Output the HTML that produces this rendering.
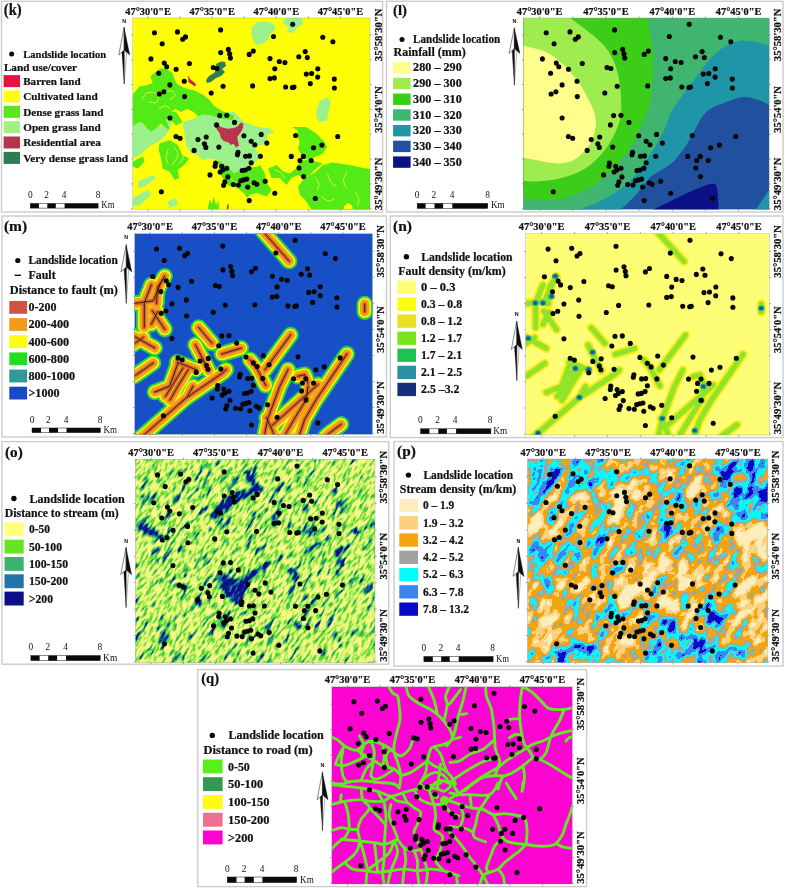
<!DOCTYPE html>
<html lang="en"><head><meta charset="utf-8"><title>Landslide conditioning factor maps (k-q)</title>
<style>html,body{margin:0;padding:0;background:#fff}svg{display:block}text{font-family:"Liberation Serif","DejaVu Serif",serif;fill:#111}.b{font-weight:bold;stroke:#111;stroke-width:.22px}</style>
</head><body>
<svg width="785" height="888" viewBox="0 0 785 888">
<rect width="785" height="888" fill="#fff"/>
<defs>
<clipPath id="ck"><rect x="132.6" y="18" width="237.4" height="191.6"/></clipPath>
<clipPath id="cl"><rect x="523.5" y="18" width="245.7" height="191.6"/></clipPath>
<clipPath id="cm"><rect x="134.5" y="233.6" width="238.1" height="200.9"/></clipPath>
<clipPath id="cn"><rect x="525.6" y="233.7" width="243.8" height="201.3"/></clipPath>
<clipPath id="co"><rect x="135.4" y="459.3" width="239.6" height="203.4"/></clipPath>
<clipPath id="cp"><rect x="527.5" y="459" width="240.3" height="203.7"/></clipPath>
<clipPath id="cq"><rect x="331.7" y="686.7" width="240.7" height="197.3"/></clipPath>
<filter id="bl1" x="-50%" y="-50%" width="200%" height="200%"><feGaussianBlur stdDeviation="0.7"/></filter>
<filter id="fo" x="0" y="0" width="1" height="1" color-interpolation-filters="sRGB">
<feTurbulence type="fractalNoise" baseFrequency="0.13 0.42" numOctaves="2" seed="7"/>
<feColorMatrix type="matrix" values="1 0 0 0 0 0 1 0 0 0 0 0 1 0 0 0 0 0 0 1" result="n"/>
<feTurbulence type="fractalNoise" baseFrequency="0.05 0.2" numOctaves="2" seed="23"/>
<feColorMatrix type="matrix" values="1 0 0 0 0 0 1 0 0 0 0 0 1 0 0 0 0 0 0 1"/>
<feComponentTransfer result="n2"><feFuncR type="table" tableValues="0 0 0.15 0.8 1 1 1 1 1"/></feComponentTransfer>
<feComposite in="n" in2="n2" operator="arithmetic" k1="0" k2="0.6" k3="0.27" k4="0" result="t"/>
<feGaussianBlur in="SourceGraphic" stdDeviation="1.6" result="b"/>
<feComposite in="t" in2="b" operator="arithmetic" k1="0" k2="2" k3="1" k4="-1.06"/>
<feColorMatrix type="matrix" values="1 0 0 0 0 1 0 0 0 0 1 0 0 0 0 0 0 0 0 1"/>
<feComponentTransfer>
<feFuncR type="table" tableValues="0.05 0.05 0.08 0.14 0.30 0.45 0.78 0.97 0.97 0.97 0.97"/>
<feFuncG type="table" tableValues="0.06 0.10 0.36 0.62 0.82 0.88 0.94 0.97 0.97 0.97 0.97"/>
<feFuncB type="table" tableValues="0.53 0.55 0.62 0.50 0.28 0.24 0.40 0.52 0.54 0.54 0.54"/>
</feComponentTransfer>
</filter>
<filter id="fp" x="0" y="0" width="1" height="1" color-interpolation-filters="sRGB">
<feTurbulence type="fractalNoise" baseFrequency="0.062 0.095" numOctaves="3" seed="11"/>
<feColorMatrix type="matrix" values="1 0 0 0 0 0 1 0 0 0 0 0 1 0 0 0 0 0 0 1" result="n"/>
<feGaussianBlur in="SourceGraphic" stdDeviation="4.5" result="b"/>
<feComposite in="n" in2="b" operator="arithmetic" k1="0" k2="1.25" k3="1" k4="-0.635"/>
<feColorMatrix type="matrix" values="1 0 0 0 0 1 0 0 0 0 1 0 0 0 0 0 0 0 0 1"/>
<feComponentTransfer>
<feFuncR type="discrete" tableValues="0.99 0.99 0.99 0.99 0.99 0.99 0.99 0.96 0.96 0.96 0.64 0.64 0.02 0.02 0.02 0.23 0.23 0.23 0.03 0.03"/>
<feFuncG type="discrete" tableValues="0.93 0.93 0.93 0.93 0.82 0.82 0.82 0.65 0.65 0.65 0.64 0.64 0.98 0.98 0.98 0.53 0.53 0.53 0.03 0.03"/>
<feFuncB type="discrete" tableValues="0.73 0.73 0.73 0.73 0.50 0.50 0.50 0.05 0.05 0.05 0.64 0.64 0.98 0.98 0.98 0.94 0.94 0.94 0.78 0.78"/>
</feComponentTransfer>
</filter>
<pattern id="resd" width="2.4" height="2.4" patternUnits="userSpaceOnUse"><rect width="2.4" height="2.4" fill="#c63a55"/><circle cx=".6" cy=".6" r=".45" fill="#7a1f30"/><circle cx="1.8" cy="1.8" r=".45" fill="#7a1f30"/></pattern>
<pattern id="brd" width="2.4" height="2.4" patternUnits="userSpaceOnUse"><rect width="2.4" height="2.4" fill="#cd4a38"/><circle cx=".6" cy=".6" r=".4" fill="#e8806a"/><circle cx="1.8" cy="1.8" r=".4" fill="#e8806a"/></pattern>
<filter id="bl2" filterUnits="userSpaceOnUse" x="520" y="228" width="256" height="212"><feGaussianBlur stdDeviation="0.6"/></filter>

</defs>
<rect x="1.5" y="1.3" width="381.1" height="210.7" fill="none" stroke="#cbcbcb" stroke-width="1.4"/>
<rect x="386.5" y="1.3" width="396.5" height="210.7" fill="none" stroke="#cbcbcb" stroke-width="1.4"/>
<rect x="2" y="216" width="384.5" height="221" fill="none" stroke="#cbcbcb" stroke-width="1.4"/>
<rect x="390.3" y="216" width="392.7" height="221.6" fill="none" stroke="#cbcbcb" stroke-width="1.4"/>
<rect x="2" y="441.6" width="386.7" height="222.6" fill="none" stroke="#cbcbcb" stroke-width="1.4"/>
<rect x="394" y="441.5" width="389" height="224.5" fill="none" stroke="#cbcbcb" stroke-width="1.4"/>
<rect x="197.8" y="669.6" width="388.8" height="217" fill="none" stroke="#cbcbcb" stroke-width="1.4"/>
<g clip-path="url(#ck)">
<rect x="132.6" y="18" width="237.4" height="191.6" fill="#fefe06"/>
<polygon points="132.7,126.9 136.4,123.5 141.1,121.9 146.1,126.9 151.1,130 160,126 168,120 172,121 170,128 165,136 158,142 149.5,146 144.5,151 138,156 132.7,158.4" fill="#9cf08c"/>
<polygon points="182.6,121.9 194.2,118.5 202.6,113.8 214.1,111.9 234.1,111.9 243.8,121.9 258.1,126.9 268.1,127.9 274.7,131.9 266.6,135 268.1,143.5 260,145 255,148.5 261.6,156.6 256.6,161.6 250,166.6 243.8,168.4 234.1,173.4 227.3,166.6 217.6,160 210.7,158.4 202.6,160 197.6,155 191,153.4 186.1,145 184.2,131.9" fill="#9cf08c"/>
<polygon points="138,181.5 153,175 156.1,178.1 144.5,186.5 138,188.1" fill="#9cf08c"/>
<polygon points="132.7,198.1 148,190 151.1,194.6 141.1,204.6 132.7,206.5" fill="#9cf08c"/>
<polygon points="167.6,201.5 176.1,198.1 177.6,204.6 169.5,208.1" fill="#9cf08c"/>
<polygon points="319.9,101 327.8,97 330.9,102.6 328.4,111.9 327.1,120.4 319.6,121.9 316.2,116.9 316.8,108.8" fill="#9cf08c"/>
<polygon points="252,27 257,22 266,21.5 274,24 275,30 270,34 268,40 262,44 256,45 253,40 251.5,33" fill="#9cf08c"/>
<polygon points="283,20 288,18 302,18 303,24 297,28 293,33 287,32 289,27 284,25" fill="#9cf08c"/>
<polygon points="132.7,94.5 139.5,86.3 146.1,85.4 152.7,82.9 150.5,76.4 156.1,71.4 161.1,67.9 167.6,69.8 172.6,72.9 174.5,79.5 177.6,84.5 184.2,87.9 194.2,90.4 202.6,94.5 209.1,99.5 214.1,106 222.3,111 234.1,115.7 232.6,120.1 221.6,118.8 209.8,115.1 202.9,114.4 198.2,116.6 193.5,111.9 187.3,108.8 181.1,111.9 174.8,108.8 170.1,113.5 166.1,120.4 169.5,128.5 167.6,129.4 161.1,123.5 156.1,128.5 151.1,131.9 146.1,126.9 141.1,121.9 136.4,123.5 132.7,126.9" fill="#54ea16"/>
<polygon points="159.5,143.5 169.5,140 177.6,145 182.6,155 189.2,158.4 184.2,165 177.6,170 179.2,178.1 174.5,180 169.5,171.6 162.6,168.4 161.1,158.4 158.6,150" fill="#54ea16"/>
<polygon points="132.7,161.6 143,156.6 144.5,161.6 138,168.4 132.7,166.6" fill="#54ea16"/>
<polygon points="166.1,111.9 176.1,111.9 182.6,121.9 176.1,125.4 171.1,120.4" fill="#54ea16"/>
<polygon points="217.6,160 227.3,166.6 234.1,173.4 243.8,168.4 258.1,166.6 260,165 265,173.4 266.6,183.1 271.6,190 266.6,196.5 256.6,193.1 250,194.6 247.2,198.1 243.8,193.1 237.2,188.1 227.3,185 220.7,175" fill="#54ea16"/>
<polygon points="268.1,168.4 276.6,165 283.1,171.6 289.7,173.4 296.2,168.4 299.7,161.6 306.2,160 316.2,161.6 322.8,163.4 316.2,168.4 309.6,175 303.1,178.1 298.1,175 291.5,178.1 286.6,185 279.7,178.1 271.6,178.1" fill="#54ea16"/>
<polygon points="292.2,126.9 306.2,126.9 316.2,133.5 324.6,141.9 327.1,146.9 322.8,153.4 316.2,156.6 308.1,160 301.2,155 298.1,148.5 299.7,141.9 297.2,135 298.1,130.4" fill="#54ea16"/>
<polygon points="298.1,186.5 304.7,178.1 316.2,171.6 322.8,165 332.7,162.5 349.3,165 365.8,168.4 371.4,169.1 371.4,211.8 349.3,211.8 313.1,211.8 304.7,199.6 299.7,194.6" fill="#54ea16"/>
<polygon points="207.6,209.6 209.8,199.3 211.6,204 213.8,196.8 216,204.9 218.5,200.9 219.1,209.6" fill="#54ea16"/>
<polygon points="343.4,211.8 344,206.2 348,203.1 352.1,205.6 353.3,211.8" fill="#fefe06"/>
<path d="M142 99.5 C142.8 98.4 144.6 94.4 146.7 93.2 C148.8 92.1 152.6 92 154.5 92.6 C156.5 93.2 158.3 95.3 158.6 97 C158.8 98.6 157.5 101.7 156.1 102.6 C154.6 103.4 150.9 102.1 149.8 102M165.5 92.6 C166.5 92.3 170.1 90.2 171.7 90.7 C173.3 91.2 175.1 94.3 174.8 95.7 C174.6 97.2 170.9 98.8 170.1 99.5M159.2 108.8 C160.3 108.3 163.6 105.7 165.5 105.7 C167.3 105.7 169.4 108.3 170.1 108.8M174.8 147.8 C175.3 148.9 177.9 151.8 177.9 154.1 C177.9 156.3 175.9 159.4 174.8 161.3 C173.8 163.1 172.2 164.4 171.7 165M168 149.4 C167.6 150.7 166.1 154.9 166.1 157.2 C166.1 159.5 167.6 162.4 168 163.4M181.1 152.5 C181.5 153.3 183.8 155.4 183.6 157.2 C183.3 159 180.2 162.4 179.5 163.4M315.3 177.5 C315.9 178.6 318.7 182.3 319 184.3 C319.3 186.4 317.5 189 317.1 190M327.8 174.4 C328.3 175.7 329.4 180.1 330.9 182.2 C332.3 184.2 335.6 186.1 336.5 186.8M346.5 172.8 C346 174.1 343.4 178.2 343.4 180.6 C343.4 183 346 186.3 346.5 187.5M321.5 196.2 C322.5 197 325.7 200.4 327.8 200.9 C329.8 201.4 333 199.6 334 199.3M355.8 193.1 C356.4 194.1 358.7 197.2 359 199.3 C359.2 201.4 357.7 204.5 357.4 205.6M274.7 169.7 C275.7 170.2 279.4 171.4 280.9 172.8 C282.5 174.2 283.5 177.2 284.1 178.1M231 179 C232 179.7 235.1 182.6 237.2 183.1 C239.4 183.6 243 182.3 244.1 182.2" fill="none" stroke="#e4f83c" stroke-width="0.9" stroke-linecap="round"/>
<polygon points="213.5,124.4 216.6,123.2 220.7,126.9 227.3,128.8 234.1,127.9 237.9,126 240.7,122.5 243.5,123.5 242.9,128.2 241,131.9 237.2,136.9 237.9,140.7 239.1,145.6 236,147.5 233.5,143.8 231,145 228.5,142.5 224.1,141.3 221,138.2 219.8,133.8 216.6,128.8" fill="url(#resd)"/>
<polygon points="206,80 209,76 214,73 217,69 216,64 221,61.5 225,62 226,66 222,69 225,72 221,76 216,78 211,82 207,83" fill="#2f7d58"/>
<polygon points="188,75 190,79 196,84 195,86.5 188.5,82" fill="#d21e46"/>
<polygon points="226.6,209.6 227.6,204 228.8,204.5 228.2,209.6" fill="#e8103c"/>
</g>
<g clip-path="url(#cl)">
<rect x="523.5" y="18" width="245.7" height="191.6" fill="#21509f"/>
<path d="M618 212 C619.3 210.8 623 207.6 626 204.7 C629 201.8 632 199.4 636 194.8 C640 190.2 646.3 181.2 650 177.4 C653.7 173.6 654.1 174.6 658 172 C661.9 169.4 668.5 166.2 673.2 161.7 C677.9 157.2 682.8 150.2 686.4 145 C690 139.8 691.4 135.7 694.7 130.2 C698 124.7 701.3 116.6 706.3 112 C711.3 107.4 718.1 105.3 724.5 102.8 C730.9 100.3 738.3 97.3 744.4 97 C750.5 96.7 756.4 99.3 761 101 C765.6 102.7 770.2 106 772 107 L772 15 L520 15 L520 212Z" fill="#1f95a8"/>
<polygon points="769.8,189 755.5,210 770,210" fill="#1f95a8"/>
<path d="M572 212 C576.6 210.2 591.6 205.1 599.5 201.4 C607.4 197.7 613.9 193.7 619.4 189.8 C624.9 185.9 628.7 182.3 632.6 178.2 C636.5 174.1 639.7 168.9 642.6 165 C645.5 161.1 647.8 158 650 154.7 C652.2 151.4 653.8 148.8 656 145 C658.2 141.2 660.6 137.4 663.2 131.9 C665.8 126.4 668.6 117.7 671.5 112 C674.4 106.3 677 102.9 680.6 97.8 C684.2 92.7 688.4 87.3 693 81.2 C697.6 75.1 702.8 67.2 708 61.4 C713.2 55.6 719 50 724.5 46.5 C730 43 735.5 41.4 741 40.7 C746.5 40 752.4 41.3 757.6 42.3 C762.8 43.3 769.6 45.8 772 46.5 L772 15 L520 15 L520 212Z" fill="#3fb56f"/>
<path d="M520 199 C525.5 199.1 543.3 200.8 553 199.8 C562.7 198.8 570.2 196 578 193 C585.8 190 592.6 186.8 599.5 181.6 C606.4 176.4 613.6 168.3 619.4 161.7 C625.2 155.1 630.4 148.4 634.3 141.8 C638.2 135.2 640.2 127.6 642.6 122 C645 116.4 647 113.4 648.5 108 C650 102.6 650.8 96.7 651.6 89.5 C652.4 82.3 653.1 71.6 653.3 64.7 C653.4 57.8 653.5 56.3 652.5 48 C651.5 39.7 647.9 20.5 647 15 L520 15Z" fill="#3ccd18"/>
<path d="M520 180.5 C522.8 180.7 529.6 181.9 536.5 181.5 C543.4 181.1 553.1 180.2 561.4 178 C569.6 175.8 578.6 172.9 586 168 C593.4 163.1 600.4 156.1 606 148.4 C611.6 140.7 616.9 130.4 619.4 122 C621.9 113.6 621.3 106 621 97.8 C620.7 89.6 619.6 80.5 617.7 73 C615.8 65.5 613.3 59.1 609.4 53 C605.5 46.9 601.7 42.8 594.5 36.5 C587.3 30.2 570.8 18.6 566 15 L520 15Z" fill="#9fec4f"/>
<path d="M520 156.5 C524.1 157.4 537.9 160.6 544.8 161.7 C551.7 162.8 556.1 163.9 561.4 163.3 C566.6 162.8 571.6 161.4 576.3 158.4 C581 155.4 586.4 150.1 589.6 145.1 C592.8 140.1 594.4 133.3 595.4 128.6 C596.4 123.9 596.1 121 595.4 117 C594.7 113 593.9 110.4 591 104.4 C588.1 98.4 582.9 88.1 578 81.2 C573.1 74.3 566.9 68 561.4 63 C555.9 58 551.7 54.4 544.8 51.4 C537.9 48.4 524.1 46.1 520 45Z" fill="#fffd8c"/>
<path d="M648 212 C651.6 210.2 662 205.1 669.8 201.4 C677.6 197.7 687.8 192.7 694.7 189.8 C701.6 186.9 707.5 184.3 711.2 184 C714.9 183.7 715.8 183.5 717 188.2 C718.2 192.9 718.4 208 718.7 212 Z" fill="#0c1086"/>
</g>
<g clip-path="url(#cm)">
<rect x="134.5" y="233.6" width="238.1" height="200.9" fill="#1750c6"/>
<g fill="none" stroke-linecap="round" stroke-linejoin="round">
<path d="M262.6 231 L289.2 261.2M364.7 304 L364.7 311.8M164.7 276.2 L160.6 283.3 L153.4 300.7 L136.1 303.2 L130 303.5M151.4 284.9 L144.3 302.7 L144.3 327.2M163.6 278.3 L157.5 287.4 L156.5 303.7M152.4 310.9 L164.7 329.2M157.5 311.9 L151.4 324.1M131 346 L136.1 342.5 L143.3 337.4M131 335 L137 338 L154.8 348M131 378 L136.6 374.6 L153.2 363M198.7 327.5 L212 343.2M195.4 344.8 L208.7 370.5M221.9 354 L241 348.2M177.2 362.2 L196.2 369.7M178 363 L169.7 386.2 L154.8 392M183 368 L165.6 396.2M188 370 L178 386 L170 400M140 438 L146.6 432.6 L186.3 397.8 L222.7 373 L226 369.7M187.1 397 L193 386.2M264.9 369.7 L290.6 334.9M250 359.7 L256.6 368 L265.7 385.4M288 369.7 L279.8 386.2 L268.2 417.7 L264.9 432.6 L264 438M298 376.3 L304.7 374.6 L308 383M346.9 354 L316.2 399.5 L304.7 419.4 L299.7 434.3 L299 438M271.5 426 L317.9 384.6M308 386.2 L306.3 399.5 L298 412.7 L286.4 432.6 L283 438M325 437 L327.8 434.3 L341.1 424.3M266.6 417.7 L273.2 432.6 L275 438" stroke="#25a5a0" stroke-width="16.6"/>
<path d="M262.6 231 L289.2 261.2M364.7 304 L364.7 311.8M164.7 276.2 L160.6 283.3 L153.4 300.7 L136.1 303.2 L130 303.5M151.4 284.9 L144.3 302.7 L144.3 327.2M163.6 278.3 L157.5 287.4 L156.5 303.7M152.4 310.9 L164.7 329.2M157.5 311.9 L151.4 324.1M131 346 L136.1 342.5 L143.3 337.4M131 335 L137 338 L154.8 348M131 378 L136.6 374.6 L153.2 363M198.7 327.5 L212 343.2M195.4 344.8 L208.7 370.5M221.9 354 L241 348.2M177.2 362.2 L196.2 369.7M178 363 L169.7 386.2 L154.8 392M183 368 L165.6 396.2M188 370 L178 386 L170 400M140 438 L146.6 432.6 L186.3 397.8 L222.7 373 L226 369.7M187.1 397 L193 386.2M264.9 369.7 L290.6 334.9M250 359.7 L256.6 368 L265.7 385.4M288 369.7 L279.8 386.2 L268.2 417.7 L264.9 432.6 L264 438M298 376.3 L304.7 374.6 L308 383M346.9 354 L316.2 399.5 L304.7 419.4 L299.7 434.3 L299 438M271.5 426 L317.9 384.6M308 386.2 L306.3 399.5 L298 412.7 L286.4 432.6 L283 438M325 437 L327.8 434.3 L341.1 424.3M266.6 417.7 L273.2 432.6 L275 438" stroke="#27dc25" stroke-width="15.4"/>
<path d="M262.6 231 L289.2 261.2M364.7 304 L364.7 311.8M164.7 276.2 L160.6 283.3 L153.4 300.7 L136.1 303.2 L130 303.5M151.4 284.9 L144.3 302.7 L144.3 327.2M163.6 278.3 L157.5 287.4 L156.5 303.7M152.4 310.9 L164.7 329.2M157.5 311.9 L151.4 324.1M131 346 L136.1 342.5 L143.3 337.4M131 335 L137 338 L154.8 348M131 378 L136.6 374.6 L153.2 363M198.7 327.5 L212 343.2M195.4 344.8 L208.7 370.5M221.9 354 L241 348.2M177.2 362.2 L196.2 369.7M178 363 L169.7 386.2 L154.8 392M183 368 L165.6 396.2M188 370 L178 386 L170 400M140 438 L146.6 432.6 L186.3 397.8 L222.7 373 L226 369.7M187.1 397 L193 386.2M264.9 369.7 L290.6 334.9M250 359.7 L256.6 368 L265.7 385.4M288 369.7 L279.8 386.2 L268.2 417.7 L264.9 432.6 L264 438M298 376.3 L304.7 374.6 L308 383M346.9 354 L316.2 399.5 L304.7 419.4 L299.7 434.3 L299 438M271.5 426 L317.9 384.6M308 386.2 L306.3 399.5 L298 412.7 L286.4 432.6 L283 438M325 437 L327.8 434.3 L341.1 424.3M266.6 417.7 L273.2 432.6 L275 438" stroke="#fbf816" stroke-width="12.4"/>
<path d="M262.6 231 L289.2 261.2M364.7 304 L364.7 311.8M164.7 276.2 L160.6 283.3 L153.4 300.7 L136.1 303.2 L130 303.5M151.4 284.9 L144.3 302.7 L144.3 327.2M163.6 278.3 L157.5 287.4 L156.5 303.7M152.4 310.9 L164.7 329.2M157.5 311.9 L151.4 324.1M131 346 L136.1 342.5 L143.3 337.4M131 335 L137 338 L154.8 348M131 378 L136.6 374.6 L153.2 363M198.7 327.5 L212 343.2M195.4 344.8 L208.7 370.5M221.9 354 L241 348.2M177.2 362.2 L196.2 369.7M178 363 L169.7 386.2 L154.8 392M183 368 L165.6 396.2M188 370 L178 386 L170 400M140 438 L146.6 432.6 L186.3 397.8 L222.7 373 L226 369.7M187.1 397 L193 386.2M264.9 369.7 L290.6 334.9M250 359.7 L256.6 368 L265.7 385.4M288 369.7 L279.8 386.2 L268.2 417.7 L264.9 432.6 L264 438M298 376.3 L304.7 374.6 L308 383M346.9 354 L316.2 399.5 L304.7 419.4 L299.7 434.3 L299 438M271.5 426 L317.9 384.6M308 386.2 L306.3 399.5 L298 412.7 L286.4 432.6 L283 438M325 437 L327.8 434.3 L341.1 424.3M266.6 417.7 L273.2 432.6 L275 438" stroke="#f5a31a" stroke-width="9.4"/>
<path d="M262.6 231 L289.2 261.2M364.7 304 L364.7 311.8M164.7 276.2 L160.6 283.3 L153.4 300.7 L136.1 303.2 L130 303.5M151.4 284.9 L144.3 302.7 L144.3 327.2M163.6 278.3 L157.5 287.4 L156.5 303.7M152.4 310.9 L164.7 329.2M157.5 311.9 L151.4 324.1M131 346 L136.1 342.5 L143.3 337.4M131 335 L137 338 L154.8 348M131 378 L136.6 374.6 L153.2 363M198.7 327.5 L212 343.2M195.4 344.8 L208.7 370.5M221.9 354 L241 348.2M177.2 362.2 L196.2 369.7M178 363 L169.7 386.2 L154.8 392M183 368 L165.6 396.2M188 370 L178 386 L170 400M140 438 L146.6 432.6 L186.3 397.8 L222.7 373 L226 369.7M187.1 397 L193 386.2M264.9 369.7 L290.6 334.9M250 359.7 L256.6 368 L265.7 385.4M288 369.7 L279.8 386.2 L268.2 417.7 L264.9 432.6 L264 438M298 376.3 L304.7 374.6 L308 383M346.9 354 L316.2 399.5 L304.7 419.4 L299.7 434.3 L299 438M271.5 426 L317.9 384.6M308 386.2 L306.3 399.5 L298 412.7 L286.4 432.6 L283 438M325 437 L327.8 434.3 L341.1 424.3M266.6 417.7 L273.2 432.6 L275 438" stroke="#d2682a" stroke-width="4.0"/>
<path d="M262.6 231 L289.2 261.2M364.7 304 L364.7 311.8M164.7 276.2 L160.6 283.3 L153.4 300.7 L136.1 303.2 L130 303.5M151.4 284.9 L144.3 302.7 L144.3 327.2M163.6 278.3 L157.5 287.4 L156.5 303.7M152.4 310.9 L164.7 329.2M157.5 311.9 L151.4 324.1M131 346 L136.1 342.5 L143.3 337.4M131 335 L137 338 L154.8 348M131 378 L136.6 374.6 L153.2 363M198.7 327.5 L212 343.2M195.4 344.8 L208.7 370.5M221.9 354 L241 348.2M177.2 362.2 L196.2 369.7M178 363 L169.7 386.2 L154.8 392M183 368 L165.6 396.2M188 370 L178 386 L170 400M140 438 L146.6 432.6 L186.3 397.8 L222.7 373 L226 369.7M187.1 397 L193 386.2M264.9 369.7 L290.6 334.9M250 359.7 L256.6 368 L265.7 385.4M288 369.7 L279.8 386.2 L268.2 417.7 L264.9 432.6 L264 438M298 376.3 L304.7 374.6 L308 383M346.9 354 L316.2 399.5 L304.7 419.4 L299.7 434.3 L299 438M271.5 426 L317.9 384.6M308 386.2 L306.3 399.5 L298 412.7 L286.4 432.6 L283 438M325 437 L327.8 434.3 L341.1 424.3M266.6 417.7 L273.2 432.6 L275 438" stroke="#1a0a08" stroke-width="0.8"/>
</g></g>
<g clip-path="url(#cn)">
<rect x="525.6" y="233.7" width="243.8" height="201.3" fill="#fefe76"/>
<g fill="none" stroke-linecap="round" stroke-linejoin="round" filter="url(#bl2)">
<path d="M656.8 231.1 L684 261.4M761.3 304.2 L761.3 312.1M556.5 276.4 L552.3 283.5 L545 300.9 L527.2 303.4 L521 303.7M542.9 285.1 L535.6 302.9 L535.6 327.5M555.4 278.5 L549.2 287.6 L548.1 303.9M543.9 311.2 L556.5 329.5M549.2 312.2 L542.9 324.4M522 346.3 L527.2 342.8 L534.6 337.7M522 335.3 L528.2 338.3 L546.4 348.3M522 378.4 L527.8 375 L544.7 363.4M591.3 327.8 L605 343.5M588 345.1 L601.6 370.9M615.1 354.3 L634.6 348.5M569.3 362.6 L588.8 370.1M570.1 363.4 L561.6 386.6 L546.4 392.4M575.3 368.4 L557.4 396.6M580.4 370.4 L570.1 386.4 L561.9 400.4M531.2 438.5 L538 433.1 L578.6 398.2 L615.9 373.4 L619.3 370.1M579.5 397.4 L585.5 386.6M659.1 370.1 L685.4 335.2M643.9 360.1 L650.6 368.4 L659.9 385.8M682.8 370.1 L674.4 386.6 L662.5 418.2 L659.1 433.1 L658.2 438.5M693 376.7 L699.9 375 L703.3 383.4M743.1 354.3 L711.6 399.9 L699.9 419.9 L694.8 434.8 L694 438.5M665.9 426.5 L713.4 385M703.3 386.6 L701.5 399.9 L693 413.2 L681.1 433.1 L677.7 438.5M720.7 437.5 L723.5 434.8 L737.1 424.8M660.9 418.2 L667.6 433.1 L669.5 438.5" stroke="#f8ea1e" stroke-width="9.2"/>
<path d="M656.8 231.1 L684 261.4M761.3 304.2 L761.3 312.1M556.5 276.4 L552.3 283.5 L545 300.9 L527.2 303.4 L521 303.7M542.9 285.1 L535.6 302.9 L535.6 327.5M555.4 278.5 L549.2 287.6 L548.1 303.9M543.9 311.2 L556.5 329.5M549.2 312.2 L542.9 324.4M522 346.3 L527.2 342.8 L534.6 337.7M522 335.3 L528.2 338.3 L546.4 348.3M522 378.4 L527.8 375 L544.7 363.4M591.3 327.8 L605 343.5M588 345.1 L601.6 370.9M615.1 354.3 L634.6 348.5M569.3 362.6 L588.8 370.1M570.1 363.4 L561.6 386.6 L546.4 392.4M575.3 368.4 L557.4 396.6M580.4 370.4 L570.1 386.4 L561.9 400.4M531.2 438.5 L538 433.1 L578.6 398.2 L615.9 373.4 L619.3 370.1M579.5 397.4 L585.5 386.6M659.1 370.1 L685.4 335.2M643.9 360.1 L650.6 368.4 L659.9 385.8M682.8 370.1 L674.4 386.6 L662.5 418.2 L659.1 433.1 L658.2 438.5M693 376.7 L699.9 375 L703.3 383.4M743.1 354.3 L711.6 399.9 L699.9 419.9 L694.8 434.8 L694 438.5M665.9 426.5 L713.4 385M703.3 386.6 L701.5 399.9 L693 413.2 L681.1 433.1 L677.7 438.5M720.7 437.5 L723.5 434.8 L737.1 424.8M660.9 418.2 L667.6 433.1 L669.5 438.5" stroke="#8fe42c" stroke-width="5.4"/>
</g>
<g filter="url(#bl1)">
<ellipse cx="535.4" cy="303.1" rx="3.3" ry="3" fill="#2ab07a"/><ellipse cx="535.4" cy="303.1" rx="2" ry="1.8" fill="#1d55a8"/>
<ellipse cx="543" cy="303.1" rx="3.3" ry="3" fill="#2ab07a"/><ellipse cx="543" cy="303.1" rx="2" ry="1.8" fill="#1d55a8"/>
<ellipse cx="551.5" cy="296.4" rx="3.3" ry="3" fill="#2ab07a"/><ellipse cx="551.5" cy="296.4" rx="2" ry="1.8" fill="#1d55a8"/>
<ellipse cx="528.2" cy="338.3" rx="3.3" ry="3" fill="#2ab07a"/><ellipse cx="528.2" cy="338.3" rx="2" ry="1.8" fill="#1d55a8"/>
<ellipse cx="575.3" cy="368.4" rx="3.3" ry="3" fill="#2ab07a"/><ellipse cx="575.3" cy="368.4" rx="2" ry="1.8" fill="#1d55a8"/>
<ellipse cx="588.6" cy="369.4" rx="3.3" ry="3" fill="#2ab07a"/><ellipse cx="588.6" cy="369.4" rx="2" ry="1.8" fill="#1d55a8"/>
<ellipse cx="579.4" cy="397.4" rx="3.3" ry="3" fill="#2ab07a"/><ellipse cx="579.4" cy="397.4" rx="2" ry="1.8" fill="#1d55a8"/>
<ellipse cx="538" cy="433.1" rx="3.3" ry="3" fill="#2ab07a"/><ellipse cx="538" cy="433.1" rx="2" ry="1.8" fill="#1d55a8"/>
<ellipse cx="703.3" cy="386.4" rx="3.3" ry="3" fill="#2ab07a"/><ellipse cx="703.3" cy="386.4" rx="2" ry="1.8" fill="#1d55a8"/>
<ellipse cx="694.8" cy="430.5" rx="3.3" ry="3" fill="#2ab07a"/><ellipse cx="694.8" cy="430.5" rx="2" ry="1.8" fill="#1d55a8"/>
<ellipse cx="662.3" cy="418.5" rx="3.3" ry="3" fill="#2ab07a"/><ellipse cx="662.3" cy="418.5" rx="2" ry="1.8" fill="#1d55a8"/>
<ellipse cx="701.2" cy="400.4" rx="3.3" ry="3" fill="#2ab07a"/><ellipse cx="701.2" cy="400.4" rx="2" ry="1.8" fill="#1d55a8"/>
<ellipse cx="761.3" cy="308.2" rx="3.3" ry="3" fill="#2ab07a"/><ellipse cx="761.3" cy="308.2" rx="2" ry="1.8" fill="#1d55a8"/>
<ellipse cx="555.3" cy="276.2" rx="3.3" ry="3" fill="#2ab07a"/><ellipse cx="555.3" cy="276.2" rx="2" ry="1.8" fill="#1d55a8"/>
<ellipse cx="592.7" cy="352.3" rx="3.3" ry="3" fill="#2ab07a"/><ellipse cx="592.7" cy="352.3" rx="2" ry="1.8" fill="#1d55a8"/>
</g>
</g>
<g clip-path="url(#cq)">
<rect x="331.7" y="686.7" width="240.7" height="197.3" fill="#fb04d2"/>
<path d="M387.6 684.7 C388.5 686 390.9 691 392.6 692.9 C394.2 694.9 396.5 694 397.6 696.2 C398.7 698.5 398.8 702.3 399.2 706.2 C399.6 710.1 400.5 715 400 719.4 C399.6 723.9 397.7 728.5 396.7 732.7 C395.8 736.8 394.7 741 394.2 744.3 C393.8 747.6 393.7 749.5 394.2 752.6 C394.8 755.6 396.5 758.6 397.6 762.5 C398.7 766.4 400.6 771.5 400.9 775.7 C401.1 780 399.5 786 399.2 788M405.8 684.7 C406.4 686.6 406.7 692.9 409.2 696.2 C411.6 699.6 417.2 702.3 420.7 704.5 C424.3 706.7 427.9 707.8 430.7 709.5 C433.4 711.2 435.1 712.5 437.3 714.5 C439.5 716.4 441.7 718.3 443.9 721.1 C446.1 723.9 449.2 728 450.6 731 C451.9 734.1 453.3 737.1 452.2 739.3 C451.1 741.5 447 743 443.9 744.3 C440.9 745.5 436.2 745.9 434 746.8 C431.8 747.6 431.8 746.9 430.7 749.2 C429.6 751.6 428.2 757 427.4 760.8 C426.5 764.7 426.8 768.8 425.7 772.4 C424.6 776 422.1 779.6 420.7 782.4 C419.4 785.1 418 787.9 417.4 789M427.4 684.7 C428.5 687.1 432.3 694.6 434 699.6 C435.7 704.5 436.8 712 437.3 714.5M450.6 684.7 C449.7 686.6 446.1 692.9 445.6 696.2 C445 699.6 447.5 700.4 447.2 704.5 C447 708.7 444.5 718.3 443.9 721.1M460.5 689.6 C458.8 691.8 452.8 700.4 450.6 702.9 C448.3 705.4 447.8 704.3 447.2 704.5M329.7 736 C331 736.7 335.5 738.5 337.9 740.1 C340.4 741.8 341.5 744.3 344.6 745.9 C347.6 747.6 352.8 750.4 356.2 750.1 C359.5 749.8 362 745.8 364.4 744.3 C366.9 742.8 368 741 371.1 741 C374.1 741 379.3 742.9 382.7 744.3 C386 745.7 389 747.9 390.9 749.2 C392.9 750.6 393.7 752 394.2 752.6M359.5 736 L364.4 744.3M344.6 745.9 C343.7 747.3 341.1 751.2 339.6 754.2 C338.1 757.3 336.1 762.5 335.5 764.2M342.9 750.9 C342.6 752.6 341.2 756.7 341.2 760.8 C341.2 765 342.1 772.2 342.9 775.7 C343.7 779.3 347 781 346.2 782.4 C345.4 783.8 340.7 784.1 337.9 784 C335.2 784 331 782.4 329.7 782M356.2 750.1 C357.8 751 363.1 754.1 366.1 755.9 C369.1 757.7 371.6 759.2 374.4 760.8 C377.1 762.5 379.3 764.4 382.7 765.8 C386 767.2 391.2 767.5 394.2 769.1 C397.3 770.8 399.8 774.6 400.9 775.7M371.1 741 C371.6 742.9 374.1 748.4 374.4 752.6 C374.6 756.7 373.3 761.9 372.7 765.8 C372.2 769.7 370.5 773.5 371.1 775.7 C371.6 778 373.8 779.1 376 779.1 C378.2 779.1 381.3 777.4 384.3 775.7 C387.3 774.1 392.6 770.2 394.2 769.1M346.2 782.4 C348.7 782.1 355.9 780.7 361.1 780.7 C366.4 780.7 372.2 781.8 377.7 782.4 C383.2 782.9 390.7 783.1 394.2 784 C397.8 785 398.4 787.3 399.2 788M394.2 752.6 C395.4 753.1 398.4 756.4 400.9 755.9 C403.4 755.3 407.2 751.7 409.2 749.2 C411.1 746.8 411.9 742.3 412.5 741M400.9 775.7 C402.5 775.2 407.5 774.1 410.8 772.4 C414.1 770.8 418 767.7 420.7 765.8 C423.5 763.9 426.3 761.7 427.4 760.8M437.3 789 C437.6 786.8 438.4 779.9 439 775.7 C439.5 771.6 440.3 766.1 440.6 764.2M452.2 739.3 L460.5 737.3M382.7 744.3 C382.9 746.2 384.3 752.3 384.3 755.9 C384.3 759.5 382.9 764.2 382.7 765.8M390.9 749.2 C390.1 750.4 386.5 753.1 386 755.9 C385.4 758.6 387.3 764.2 387.6 765.8M466.6 684.7 C466 687.1 464.6 694.3 463.2 699.6 C461.9 704.8 459.7 710.9 458.3 716.1 C456.9 721.4 456.1 727.2 455 731 C453.9 734.9 453 736.8 451.7 739.3 C450.3 741.8 447.5 744.8 446.7 745.9M461.6 714.5 L466.6 713.6M485.6 684.7 C485.7 686.6 485.5 692.1 486.4 696.2 C487.4 700.4 490.2 704.5 491.4 709.5 C492.6 714.5 493.3 721.1 493.9 726.1 C494.4 731 494.4 735.4 494.7 739.3 C495 743.2 494.7 745.7 495.5 749.2 C496.4 752.8 499.3 757.8 499.7 760.8 C500.1 763.9 498.9 765 498 767.5 C497.2 769.9 495.3 774.4 494.7 775.7M522.9 684.7 C522.5 687.1 520.9 694.3 520.4 699.6 C519.8 704.8 519.4 710.9 519.6 716.1 C519.7 721.4 520.4 726.3 521.2 731 C522 735.7 523.1 741 524.5 744.3 C525.9 747.6 528.1 748.7 529.5 750.9 C530.9 753.1 532.3 756.4 532.8 757.5M522.9 686.6 C524.5 687.7 529.5 690.2 532.8 692.9 C536.1 695.6 540 700.3 542.7 702.9 C545.5 705.5 545.8 707.6 549.4 708.7 C553 709.8 560.1 709.7 564.3 709.5 C568.4 709.3 572.6 707.8 574.2 707.5M564.3 709.5 C563.4 711.4 561.2 717.2 559.3 721.1 C557.4 725 554.3 729.4 552.7 732.7 C551 736 550.5 737.7 549.4 741 C548.3 744.3 547.7 749.5 546.1 752.6 C544.4 755.6 541.6 758.4 539.4 759.2 C537.2 760 533.9 757.8 532.8 757.5M574.2 729.9 C572.3 730.3 566.2 731.7 562.6 732.7 C559 733.7 556 734.6 552.7 736 C549.4 737.4 546.1 739.6 542.7 741 C539.4 742.3 535.8 742.9 532.8 744.3 C529.8 745.7 527.3 747.6 524.5 749.2 C521.8 750.9 519.3 752.3 516.2 754.2 C513.2 756.1 509.3 758.6 506.3 760.8 C503.3 763 501.3 765.3 498 767.5 C494.7 769.7 490 771.9 486.4 774.1 C482.8 776.3 479.8 778.4 476.5 780.7 C473.2 783 469.9 785.5 466.6 788 C463.2 790.5 458.3 794.4 456.6 795.6M509.6 719.4 C510.7 719.3 514.6 718.6 516.2 718.6 C517.9 718.6 519 719.3 519.6 719.4M509.6 737.7 C510.7 737.1 514.3 734.6 516.2 734.3 C518.2 734.1 520.4 735.7 521.2 736M539.4 759.2 C541.1 760 545.5 761.9 549.4 764.2 C553.2 766.4 558.5 769.9 562.6 772.4 C566.8 774.9 572.3 778 574.2 779.1M532.8 757.5 C531.2 758.9 526.2 763.3 522.9 765.8 C519.6 768.3 516 770.8 512.9 772.4 C509.9 774.1 507.7 775.2 504.7 775.7 C501.6 776.3 498.3 775.5 494.7 775.7 C491.1 776 486.4 776.3 483.1 777.4 C479.8 778.5 477.9 780.2 474.8 782.4 C471.8 784.6 466.6 789.3 464.9 790.7M565.9 741 C566.5 740.4 567.9 738.4 569.2 737.7 C570.6 736.9 573.4 736.5 574.2 736.3M522.9 789 C523.1 786.8 524.5 779.6 524.5 775.7 C524.5 771.9 523.1 767.5 522.9 765.8M498 789 C498.6 787.3 500.2 781.3 501.3 779.1 C502.4 776.9 504.1 776.3 504.7 775.7M448.3 783.2 C451.4 781.1 460.8 774.4 466.6 770.8 C472.4 767.2 478.3 763.7 483.1 761.7 C488 759.6 493.5 758.9 495.5 758.4M329.7 784.3 C332.1 784.7 339.3 785.7 344.6 786.3 C349.8 786.9 355.6 787.1 361.1 788 C366.6 788.8 372.7 789.9 377.7 791.3 C382.7 792.7 386.8 796 390.9 796.2 C395.1 796.5 398.7 794 402.5 792.9 C406.4 791.8 410 790.7 414.1 789.6 C418.3 788.5 423 787.4 427.4 786.3 C431.8 785.2 438.4 783.6 440.6 783M329.7 805 C332.1 804.4 339.3 802.1 344.6 801.2 C349.8 800.3 357 799.6 361.1 799.6 C365.3 799.6 365.8 800.9 369.4 801.2 C373 801.5 379.1 802 382.7 801.2 C386.2 800.4 389.6 797.1 390.9 796.2M361.1 788 C361.4 789.9 361.4 796.2 362.8 799.6 C364.2 802.9 369.7 804.5 369.4 807.8 C369.1 811.2 363.1 815.8 361.1 819.4 C359.2 823 358.1 826.1 357.8 829.4 C357.5 832.7 359.5 836 359.5 839.3 C359.5 842.6 358.9 846.5 357.8 849.2 C356.7 852 355.1 853.7 352.8 855.9 C350.6 858.1 348.4 859.6 344.6 862.5 C340.7 865.4 332.1 871.5 329.7 873.3M329.7 831.4 C331.6 830.8 337.9 828 341.2 827.7 C344.6 827.4 346.8 829.1 349.5 829.4 C352.3 829.6 356.4 829.4 357.8 829.4M329.7 850.9 C331 849.5 335.5 844.8 337.9 842.6 C340.4 840.4 342.6 839.9 344.6 837.7 C346.5 835.4 348.7 830.8 349.5 829.4M341.2 839.3 C344.3 839.6 353.9 840.4 359.5 841 C365 841.5 370.2 842.1 374.4 842.6 C378.5 843.2 381 844.6 384.3 844.3 C387.6 844 392.6 841.5 394.2 841M384.3 802.9 C384.6 805.1 385.8 811.2 386 816.1 C386.1 821.1 385.4 828 385.1 832.7 C384.9 837.4 384.4 840.1 384.3 844.3 C384.2 848.4 384.6 852.8 384.3 857.5 C384 862.2 382.7 867.9 382.7 872.4 C382.7 877 384 882.8 384.3 884.9M390.9 804.5 C390.7 806.5 388.7 812 389.3 816.1 C389.8 820.3 392.9 825.5 394.2 829.4 C395.6 833.2 397.6 837.4 397.6 839.3 C397.6 841.2 395.6 838.8 394.2 841 C392.9 843.2 392 849 389.3 852.6 C386.5 856.1 381.3 859.5 377.7 862.5 C374.1 865.5 369.7 867.1 367.7 870.8 C365.8 874.5 366.4 882.5 366.1 884.9M397.6 839.3 C398.7 840.7 401.4 845.7 404.2 847.6 C406.9 849.5 411.4 850.6 414.1 850.9 C416.9 851.2 419.6 849.5 420.7 849.2M359.5 839.3 C360.3 842.1 363.1 850.6 364.4 855.9 C365.8 861.1 367.2 868.3 367.7 870.8M367.7 870.8 C369.4 871.1 373.8 872.4 377.7 872.4 C381.5 872.4 386.5 871.3 390.9 870.8 C395.4 870.2 399.8 869.1 404.2 869.1 C408.6 869.1 413 870.8 417.4 870.8 C421.9 870.8 426.3 869.1 430.7 869.1 C435.1 869.1 439.2 869.7 443.9 870.8 C448.6 871.9 456.4 874.9 458.8 875.7M394.2 841 C394.8 842.9 398.1 847.6 397.6 852.6 C397 857.5 392.6 865.4 390.9 870.8 C389.3 876.2 388.2 882.5 387.6 884.9M404.2 847.6 C404.5 849.8 405.8 857.3 405.8 860.8 C405.8 864.4 404.7 865.1 404.2 869.1 C403.6 873.1 402.8 882.2 402.5 884.9M414.1 850.9 C414.7 852.6 416.9 857.5 417.4 860.8 C418 864.2 417.2 866.8 417.4 870.8 C417.7 874.8 418.8 882.5 419.1 884.9M390.9 796.2 C392 797.1 394.8 800.1 397.6 801.2 C400.3 802.3 404.7 801.8 407.5 802.9 C410.3 804 411.9 806.2 414.1 807.8 C416.3 809.5 420.2 810.1 420.7 812.8 C421.3 815.6 418.5 821.1 417.4 824.4 C416.3 827.7 413.6 828.5 414.1 832.7 C414.7 836.8 419.1 844.8 420.7 849.2 C422.4 853.7 423 855.3 424.1 859.2 C425.2 863 427.1 868.2 427.4 872.4 C427.6 876.7 426 882.8 425.7 884.9M414.1 789.6 C415.2 791.3 417.4 797.1 420.7 799.6 C424.1 802 430.1 804 434 804.5 C437.9 805.1 439.8 804.9 443.9 802.9 C448.1 800.9 456.4 794.3 458.8 792.6M434 804.5 C434.3 806.5 435.7 812 435.7 816.1 C435.7 820.3 432.9 826.1 434 829.4 C435.1 832.7 441.2 832.7 442.3 836 C443.4 839.3 441.7 845.1 440.6 849.2 C439.5 853.4 435.1 857.3 435.7 860.8 C436.2 864.4 442.6 869.1 443.9 870.8M443.9 802.9 C445 804.5 448.1 810.6 450.6 812.8 C453 815 457.5 815.6 458.8 816.1M341.2 794.6 L340.4 801.2M344.6 862.5 C345.9 863.6 349 867.7 352.8 869.1 C356.7 870.5 365.3 870.5 367.7 870.8M450 792.9 C451.7 793.2 456.6 794.3 459.9 794.6 C463.2 794.9 466 794.5 469.9 794.6 C473.7 794.7 479.8 795.4 483.1 795.4 C486.4 795.4 487.8 795.6 489.7 794.6 C491.7 793.6 493.3 791.6 494.7 789.6 C496.1 787.7 497.5 784.1 498 783M450 801.2 C451.7 801.8 456.3 803.4 459.9 804.5 C463.5 805.6 467.7 807 471.5 807.8 C475.4 808.7 479.5 808.4 483.1 809.5 C486.7 810.6 489.5 813.8 493.1 814.5 C496.6 815.2 500.8 813.5 504.7 813.6 C508.5 813.8 512.9 814.6 516.2 815.3 C519.6 816 522.7 815.4 524.5 817.8 C526.3 820.1 526.7 825 527 829.4 C527.3 833.8 526.3 841.8 526.2 844.3M489.7 794.6 C488.6 796.2 485.1 801.5 483.1 804.5 C481.2 807.6 479.4 809.5 478.2 812.8 C476.9 816.1 476.5 821.1 475.7 824.4 C474.8 827.7 473.3 830.5 473.2 832.7 C473 834.9 473.2 836.3 474.8 837.7 C476.5 839 481.3 840.3 483.1 841 C484.9 841.7 485.2 841.7 485.6 841.8M450 826.1 C451.7 826.3 456.9 827.2 459.9 827.7 C463 828.3 466 828.5 468.2 829.4 C470.4 830.2 472.4 832.1 473.2 832.7M493.1 814.5 C493.9 816.1 496.6 821.1 498 824.4 C499.4 827.7 500 831.6 501.3 834.3 C502.7 837.1 503.8 839.4 506.3 841 C508.8 842.5 512.9 842.9 516.2 843.5 C519.6 844 522.9 843.9 526.2 844.3 C529.5 844.7 532.3 845.7 536.1 845.9 C540 846.2 546.1 846.3 549.4 845.9 C552.7 845.5 553.8 845.4 556 843.5 C558.2 841.5 561 837.5 562.6 834.3 C564.3 831.2 564.8 827.4 565.9 824.4 C567 821.4 568 819.6 569.2 816.1 C570.5 812.7 572.7 805.8 573.4 803.7M556 843.5 C557.1 844 559.7 845.9 562.6 846.8 C565.5 847.6 571.6 848.3 573.4 848.6M526.2 844.3 C525.1 845.4 521.8 849 519.6 850.9 C517.4 852.8 515.4 853.9 512.9 855.9 C510.5 857.8 507.1 860.3 504.7 862.5 C502.2 864.7 500.5 867.5 498 869.1 C495.5 870.8 492.2 871.3 489.7 872.4 C487.3 873.5 484.8 873.7 483.1 875.7 C481.5 877.8 480.4 883.3 479.8 884.9M501.3 839.3 C500.2 840.4 496.4 843.5 494.7 845.9 C493.1 848.4 492.5 851.5 491.4 854.2 C490.3 857 488.9 860 488.1 862.5 C487.3 865 486.2 867.5 486.4 869.1 C486.7 870.8 489.2 871.9 489.7 872.4M450 832.7 C451.1 833.8 454.4 836.8 456.6 839.3 C458.8 841.8 461 844.6 463.2 847.6 C465.5 850.6 467.7 854.5 469.9 857.5 C472.1 860.6 474.3 862.8 476.5 865.8 C478.7 868.8 481.2 872.6 483.1 875.7 C485.1 878.9 487.3 883.3 488.1 884.9M506.3 783 C507.1 784.4 509.6 788.7 511.3 791.3 C512.9 793.9 515.4 797.5 516.2 798.7M522.9 783 L522 791.3M498 869.1 C498.9 870.2 501.9 873.1 503 875.7 C504.1 878.4 504.4 883.3 504.7 884.9M456.6 877.4 L457.5 884.9M453.3 783 C453.6 783.8 453.9 786 455 788 C456.1 789.9 459.1 793.5 459.9 794.6M420.7 782.4 C421.9 781.3 424.9 777.4 427.4 775.7 C429.9 774.1 432.9 772.4 435.7 772.4 C438.4 772.4 441.7 774.1 443.9 775.7 C446.1 777.4 448.1 781.3 448.9 782.4M430.7 788 C431.5 787.1 433.7 783.6 435.7 782.4 C437.6 781.2 439.8 780.4 442.3 780.7 C444.8 781 449.2 783.5 450.6 784M427.4 760.8 C428.5 761.7 431.5 764.4 434 765.8 C436.5 767.2 439.5 767.5 442.3 769.1 C445 770.8 448.3 773.3 450.6 775.7 C452.8 778.2 454.7 782.6 455.5 784M434 746.8 C435.1 748 439 751.3 440.6 754.2 C442.3 757.1 442.8 761.1 443.9 764.2 C445 767.2 446.7 771.1 447.2 772.4M420.7 784.7 C421.9 785.5 424.9 789.1 427.4 789.6 C429.9 790.2 432.9 787.7 435.7 788 C438.4 788.2 441.4 791.6 443.9 791.3 C446.4 791 449.5 787.1 450.6 786.3M427.4 786.3 C427.9 787.7 429.6 791.6 430.7 794.6 C431.8 797.6 433.4 802.9 434 804.5M402.5 792.9 C403.1 794 405 797.9 405.8 799.6 C406.7 801.2 407.2 802.3 407.5 802.9M377.7 791.3 L382.7 801.2M364.4 744.3 C363.9 745.9 360.8 752.3 361.1 754.2 C361.4 756.1 365.3 755.6 366.1 755.9M374.4 760.8 C373 762.2 368.3 765.8 366.1 769.1 C363.9 772.4 362 778.8 361.1 780.7M335.5 764.2 C336.7 764.4 340 766.1 342.9 765.8 C345.8 765.5 349 764.2 352.8 762.5 C356.7 760.8 363.9 757 366.1 755.9M344.6 801.2 C345.1 803.2 347 808.1 347.9 812.8 C348.7 817.5 349.3 826.6 349.5 829.4M369.4 807.8 C370.8 809.2 375.1 813.4 377.7 816.1 C380.3 818.9 383.9 823 385.1 824.4M374.4 842.6 C374.6 844.8 375.5 850.9 376 855.9 C376.6 860.8 377.4 869.7 377.7 872.4M450 762.5 C451.7 762.2 456.6 762.2 459.9 760.8 C463.2 759.5 466 756.1 469.9 754.2 C473.7 752.3 479 751.7 483.1 749.2 C487.3 746.8 492.8 741 494.7 739.3M459.9 804.5 C460.5 806.5 463.2 812.3 463.2 816.1 C463.2 820 460.5 825.8 459.9 827.7M469.9 794.6 L471.5 807.8" fill="none" stroke="#62e824" stroke-width="2.9" stroke-linecap="round" stroke-linejoin="round"/>
<circle cx="444.5" cy="800.5" r="4.5" fill="#62e824"/><circle cx="436" cy="796" r="3" fill="#62e824"/>
</g>
<g clip-path="url(#co)">
<g filter="url(#fo)" transform="rotate(-58 255 561)">
<rect x="70" y="380" width="370" height="362" fill="#8e8e8e"/>
<g transform="rotate(58 255 561)">
<polygon points="216.6,576.7 226,573.6 235.4,579.8 245.5,575.1 257.4,567.3 269.9,559.4 272.4,562.6 260.5,572 248.6,581.4 244.9,593.9 240.2,604.9 232.3,603.3 226,593.9 219.8,587.7" fill="#000"/>
<polygon points="208.8,517.1 216.6,506.2 226,498.3 241.7,489.9 260.5,484.8 263.7,488.6 251.1,495.2 235.4,503 226,512.4 214.1,520.3" fill="#000"/>
<polygon points="243.3,470.1 248.6,471 259,485.8 255.8,488.9 248.6,481.1" fill="#000"/>
<polygon points="136.7,521.8 150.8,528.7 163.3,535.9 162.1,539.4 147.7,534.4 136.7,527.5" fill="#000"/>
<polygon points="174.3,583 185.9,585.2 186.9,589.2 175.3,587.7" fill="#000"/>
<polygon points="287.2,567.3 295,568.9 299.7,578.9 293.4,580.8" fill="#000"/>
<polygon points="334.2,550 339.5,549.4 343.6,565.1 338.9,566.3" fill="#000"/>
<polygon points="349.9,527.5 362.4,531.2 361.5,535 350.8,532.5" fill="#000"/>
<polygon points="293.4,620.6 301.3,622.1 302.8,629 295,629" fill="#000"/>
<polygon points="219.8,619 226,617.4 227.6,625.3 221.3,626.8" fill="#000"/>
<polygon points="301.3,553.2 320.1,540.6 322,543.8 303.8,556.9" fill="#000"/>
<polygon points="194.7,597.1 199.4,595.5 202.5,604.9 197.8,606.5" fill="#000"/>
<polygon points="160.2,631.5 166.5,633.1 163.3,644.1 158.6,641" fill="#000"/>
<polygon points="269.9,518.7 279.3,509.3 282.5,511.8 273.7,521.8" fill="#000"/>
</g></g></g>
<g clip-path="url(#cp)">
<g filter="url(#fp)" transform="rotate(-58 647 561)">
<rect x="462" y="380" width="370" height="362" fill="#7a7a7a"/>
<g transform="rotate(58 647 561)">
<polygon points="609.4,579.1 619.3,575.8 629.3,582.5 652.5,569.2 665.7,556 675.6,559.3 659.1,575.8 642.5,589.1 635.9,605.6 629.3,608.9 619.3,602.3 612.7,589.1" fill="#444"/>
<polygon points="602.8,509.6 612.7,493 629.3,483.1 645.8,484.8 652.5,491.4 635.9,499.7 626,509.6 616,516.2 606.1,519.5" fill="#444"/>
<polygon points="728.6,529.5 745.2,522.8 768.3,521.2 768.3,549.3 751.8,556 735.2,549.3" fill="#444"/>
<polygon points="675.6,565.9 695.5,564.2 700.5,582.5 685.6,589.1 675.6,582.5" fill="#444"/>
<polygon points="526.6,516.2 539.9,512.9 553.1,536.1 539.9,546 526.6,539.4" fill="#444"/>
<polygon points="529.9,608.9 553.1,605.6 563,635.4 539.9,648.7 526.6,638.7" fill="#444"/>
<polygon points="731.9,575.8 768.3,572.5 768.3,628.8 745.2,635.4 731.9,605.6" fill="#444"/>
<polygon points="559.7,572.5 582.9,582.5 579.6,595.7 559.7,592.4" fill="#444"/>
<polygon points="685.6,479.8 698.8,473.2 705.4,489.7 688.9,499.7" fill="#444"/>
<polygon points="692.2,509.6 708.7,503 718.7,516.2 705.4,526.2" fill="#444"/>
<polygon points="566.4,486.4 579.6,483.1 586.2,499.7 573,506.3" fill="#444"/>
<polygon points="602.8,642.1 629.3,635.4 635.9,655.3 609.4,660.3" fill="#444"/>
<polygon points="659.1,595.7 678.9,592.4 685.6,622.2 665.7,625.5" fill="#444"/>
<polygon points="610.1,579.8 619.3,576.5 629.3,583.1 645.8,574.2 664,556.6 675,559.3 655.8,579.1 640.9,592.4 635.2,606.3 627.6,609.6 618.7,602.3" fill="#1c1c1c"/>
<polygon points="606.8,507.9 617.7,493 632.6,484.8 647.5,486.4 634.2,499.7 619.3,512.9" fill="#1c1c1c"/>
<polygon points="735.2,532.8 766.7,526.2 766.7,546 741.9,549.3" fill="#1c1c1c"/>
<polygon points="678.9,567.5 695.5,566.6 697.2,582.5 682.3,585.8" fill="#1c1c1c"/>
<polygon points="718.7,456.6 770,456.6 770,516.2 751.8,519.5 731.9,512.9 722,496.4 715.4,476.5" fill="#b8b8b8"/>
<polygon points="526.6,456.6 606.1,456.6 602.8,483.1 586.2,493 559.7,486.4 539.9,496.4 526.6,493" fill="#b8b8b8"/>
<polygon points="526.6,546 549.8,549.3 553.1,572.5 533.2,575.8 526.6,572.5" fill="#b8b8b8"/>
<polygon points="639.2,645.4 665.7,642.1 669,665.2 639.2,665.2" fill="#b8b8b8"/>
<polygon points="705.4,605.6 722,604 723.6,628.8 707.1,630.5" fill="#b8b8b8"/>
<polygon points="659.1,615.6 675.6,613.9 678.9,635.4 662.4,638.7" fill="#b8b8b8"/>
<polygon points="599.5,615.6 616,613.9 617.7,628.8 601.1,630.5" fill="#b8b8b8"/>
<polygon points="553.1,648.7 602.8,645.4 602.8,665.2 553.1,665.2" fill="#b8b8b8"/>
<polygon points="669,635.4 725.3,633.8 731.9,665.2 669,665.2" fill="#b8b8b8"/>
<polygon points="712.1,526.2 731.9,524.5 733.6,542.7 713.7,544.4" fill="#b8b8b8"/>
<polygon points="553.1,539.4 573,542.7 569.7,562.6 553.1,559.3" fill="#b8b8b8"/>
<polygon points="586.2,532.8 606.1,536.1 602.8,559.3 584.6,556" fill="#b8b8b8"/>
<polygon points="659.1,512.9 678.9,516.2 675.6,536.1 657.4,532.8" fill="#b8b8b8"/>
<polygon points="725.3,486.4 738.5,479.8 751.8,486.4 748.5,506.3 731.9,506.3" fill="#e6e6e6"/>
<polygon points="533.2,552.6 546.5,554.3 548.1,565.9 534.9,567.5" fill="#e6e6e6"/>
<polygon points="710.4,608.9 718.7,608.9 719.3,622.2 711.1,622.8" fill="#e6e6e6"/>
<polygon points="748.5,463.2 765,461.6 766.7,479.8 751.8,481.5" fill="#e6e6e6"/>
</g></g></g>
<rect x="132.6" y="18" width="237.4" height="191.6" fill="none" stroke="#8a8a8a" stroke-opacity=".55" stroke-width=".6"/>
<path d="M148.1 18v-1.6M148.1 209.6v1.6M180.2 18v-1.6M180.2 209.6v1.6M212.2 18v-1.6M212.2 209.6v1.6M244.3 18v-1.6M244.3 209.6v1.6M276.3 18v-1.6M276.3 209.6v1.6M308.4 18v-1.6M308.4 209.6v1.6M340.4 18v-1.6M340.4 209.6v1.6M132.6 34.9h-1.6M370 34.9h1.6M132.6 59.7h-1.6M370 59.7h1.6M132.6 84.5h-1.6M370 84.5h1.6M132.6 109.4h-1.6M370 109.4h1.6M132.6 134.2h-1.6M370 134.2h1.6M132.6 159.1h-1.6M370 159.1h1.6M132.6 183.9h-1.6M370 183.9h1.6M132.6 208.8h-1.6M370 208.8h1.6" stroke="#666" stroke-width=".6" fill="none"/>
<g fill="#060606">
<circle cx="154.5" cy="32.7" r="2.55"/><circle cx="177.5" cy="31.9" r="2.55"/><circle cx="185.5" cy="36.9" r="2.55"/><circle cx="182.7" cy="39.2" r="2.55"/><circle cx="162.2" cy="43.7" r="2.55"/><circle cx="220.6" cy="29.9" r="2.55"/><circle cx="150.9" cy="58.9" r="2.55"/><circle cx="164.3" cy="63" r="2.55"/><circle cx="166.7" cy="66.7" r="2.55"/><circle cx="176.1" cy="69.3" r="2.55"/><circle cx="189.4" cy="63.5" r="2.55"/><circle cx="158.8" cy="73.3" r="2.55"/><circle cx="184.3" cy="81.2" r="2.55"/><circle cx="169.9" cy="84.9" r="2.55"/><circle cx="163.9" cy="91.8" r="2.55"/><circle cx="159.3" cy="94" r="2.55"/><circle cx="184.6" cy="96.6" r="2.55"/><circle cx="220.7" cy="52.6" r="2.55"/><circle cx="228.4" cy="49.4" r="2.55"/><circle cx="229.7" cy="53.9" r="2.55"/><circle cx="230.4" cy="58.1" r="2.55"/><circle cx="213.3" cy="67.5" r="2.55"/><circle cx="217" cy="68.5" r="2.55"/><circle cx="223.1" cy="86.2" r="2.55"/><circle cx="211.2" cy="93" r="2.55"/><circle cx="249.2" cy="54.4" r="2.55"/><circle cx="253.3" cy="51.1" r="2.55"/><circle cx="252.6" cy="85.9" r="2.55"/><circle cx="292.7" cy="24.3" r="2.55"/><circle cx="273.5" cy="36.5" r="2.55"/><circle cx="322.8" cy="37.2" r="2.55"/><circle cx="332.9" cy="41.7" r="2.55"/><circle cx="305.2" cy="51.6" r="2.55"/><circle cx="298.8" cy="56.7" r="2.55"/><circle cx="307.3" cy="57.6" r="2.55"/><circle cx="270" cy="58.6" r="2.55"/><circle cx="279.3" cy="61.5" r="2.55"/><circle cx="284.9" cy="62.5" r="2.55"/><circle cx="274.8" cy="68.8" r="2.55"/><circle cx="274.4" cy="77.9" r="2.55"/><circle cx="270" cy="78.6" r="2.55"/><circle cx="285.6" cy="87" r="2.55"/><circle cx="292.4" cy="87.5" r="2.55"/><circle cx="294" cy="87" r="2.55"/><circle cx="317.8" cy="68.7" r="2.55"/><circle cx="306.3" cy="74.1" r="2.55"/><circle cx="311.6" cy="73.5" r="2.55"/><circle cx="317.7" cy="77.1" r="2.55"/><circle cx="310.3" cy="83.6" r="2.55"/><circle cx="334.3" cy="79.1" r="2.55"/><circle cx="334.4" cy="88" r="2.55"/><circle cx="169.9" cy="118" r="2.55"/><circle cx="219.7" cy="115.6" r="2.55"/><circle cx="226.8" cy="115.3" r="2.55"/><circle cx="234.5" cy="122.4" r="2.55"/><circle cx="216.6" cy="124.9" r="2.55"/><circle cx="176" cy="136.5" r="2.55"/><circle cx="180.1" cy="138.3" r="2.55"/><circle cx="206.2" cy="137" r="2.55"/><circle cx="198" cy="139.5" r="2.55"/><circle cx="204.4" cy="143.8" r="2.55"/><circle cx="205.8" cy="147.4" r="2.55"/><circle cx="194.1" cy="150.4" r="2.55"/><circle cx="218.8" cy="147.1" r="2.55"/><circle cx="243.9" cy="135.7" r="2.55"/><circle cx="251.2" cy="141.3" r="2.55"/><circle cx="254.8" cy="144.8" r="2.55"/><circle cx="238" cy="152.2" r="2.55"/><circle cx="237.4" cy="154.7" r="2.55"/><circle cx="245.6" cy="156.2" r="2.55"/><circle cx="249.5" cy="155.9" r="2.55"/><circle cx="215.6" cy="163" r="2.55"/><circle cx="215.1" cy="166.2" r="2.55"/><circle cx="221.7" cy="166.3" r="2.55"/><circle cx="226.8" cy="168.3" r="2.55"/><circle cx="222.8" cy="170" r="2.55"/><circle cx="220.1" cy="172" r="2.55"/><circle cx="210" cy="174.9" r="2.55"/><circle cx="227.8" cy="176.9" r="2.55"/><circle cx="251.2" cy="162.8" r="2.55"/><circle cx="248.9" cy="168.3" r="2.55"/><circle cx="245.3" cy="170" r="2.55"/><circle cx="242.2" cy="170.5" r="2.55"/><circle cx="246.8" cy="179.1" r="2.55"/><circle cx="243.6" cy="179.9" r="2.55"/><circle cx="240.7" cy="180.7" r="2.55"/><circle cx="224.8" cy="181.9" r="2.55"/><circle cx="223.6" cy="185.2" r="2.55"/><circle cx="233.3" cy="184.5" r="2.55"/><circle cx="238.4" cy="185" r="2.55"/><circle cx="247.7" cy="187" r="2.55"/><circle cx="254.1" cy="182.7" r="2.55"/><circle cx="161.4" cy="191.7" r="2.55"/><circle cx="249.2" cy="200.6" r="2.55"/><circle cx="261.2" cy="134.4" r="2.55"/><circle cx="266.8" cy="143.1" r="2.55"/><circle cx="295.6" cy="135.5" r="2.55"/><circle cx="337.7" cy="136.5" r="2.55"/><circle cx="321.9" cy="145.1" r="2.55"/><circle cx="313.5" cy="147.8" r="2.55"/><circle cx="260.4" cy="156.2" r="2.55"/><circle cx="291.3" cy="156.4" r="2.55"/><circle cx="303.4" cy="156.4" r="2.55"/><circle cx="300" cy="160.5" r="2.55"/><circle cx="311.2" cy="160.5" r="2.55"/><circle cx="299.1" cy="168" r="2.55"/><circle cx="303.6" cy="176.6" r="2.55"/><circle cx="265.2" cy="181.2" r="2.55"/><circle cx="256.8" cy="184.2" r="2.55"/><circle cx="274.8" cy="193.2" r="2.55"/><circle cx="315.3" cy="198.5" r="2.55"/>
</g>
<g class="b" font-size="10.3" text-anchor="middle">
<text x="148.1" y="14.5" textLength="45.5" lengthAdjust="spacingAndGlyphs">47°30'0&quot;E</text>
<text x="212.2" y="14.5" textLength="45.5" lengthAdjust="spacingAndGlyphs">47°35'0&quot;E</text>
<text x="276.3" y="14.5" textLength="45.5" lengthAdjust="spacingAndGlyphs">47°40'0&quot;E</text>
<text x="340.4" y="14.5" textLength="45.5" lengthAdjust="spacingAndGlyphs">47°45'0&quot;E</text>
<text transform="translate(381.5 34.9) rotate(-90)" textLength="52.5" lengthAdjust="spacingAndGlyphs">35°58'30&quot;N</text>
<text transform="translate(381.5 109.4) rotate(-90)" textLength="46.5" lengthAdjust="spacingAndGlyphs">35°54'0&quot;N</text>
<text transform="translate(381.5 183.9) rotate(-90)" textLength="52.5" lengthAdjust="spacingAndGlyphs">35°49'30&quot;N</text>
</g>
<rect x="523.5" y="18" width="245.7" height="191.6" fill="none" stroke="#8a8a8a" stroke-opacity=".55" stroke-width=".6"/>
<path d="M539.6 18v-1.6M539.6 209.6v1.6M572.8 18v-1.6M572.8 209.6v1.6M605.9 18v-1.6M605.9 209.6v1.6M639.1 18v-1.6M639.1 209.6v1.6M672.3 18v-1.6M672.3 209.6v1.6M705.4 18v-1.6M705.4 209.6v1.6M738.6 18v-1.6M738.6 209.6v1.6M523.5 34.9h-1.6M769.2 34.9h1.6M523.5 59.7h-1.6M769.2 59.7h1.6M523.5 84.5h-1.6M769.2 84.5h1.6M523.5 109.4h-1.6M769.2 109.4h1.6M523.5 134.2h-1.6M769.2 134.2h1.6M523.5 159.1h-1.6M769.2 159.1h1.6M523.5 183.9h-1.6M769.2 183.9h1.6M523.5 208.8h-1.6M769.2 208.8h1.6" stroke="#666" stroke-width=".6" fill="none"/>
<g fill="#060606">
<circle cx="546.2" cy="32.7" r="2.55"/><circle cx="570" cy="31.9" r="2.55"/><circle cx="578.3" cy="36.9" r="2.55"/><circle cx="575.3" cy="39.2" r="2.55"/><circle cx="554.1" cy="43.7" r="2.55"/><circle cx="614.6" cy="29.9" r="2.55"/><circle cx="542.4" cy="58.9" r="2.55"/><circle cx="556.3" cy="63" r="2.55"/><circle cx="558.8" cy="66.7" r="2.55"/><circle cx="568.5" cy="69.3" r="2.55"/><circle cx="582.3" cy="63.5" r="2.55"/><circle cx="550.6" cy="73.3" r="2.55"/><circle cx="577" cy="81.2" r="2.55"/><circle cx="562.1" cy="84.9" r="2.55"/><circle cx="555.9" cy="91.8" r="2.55"/><circle cx="551.1" cy="94" r="2.55"/><circle cx="577.3" cy="96.6" r="2.55"/><circle cx="614.7" cy="52.6" r="2.55"/><circle cx="622.7" cy="49.4" r="2.55"/><circle cx="624" cy="53.9" r="2.55"/><circle cx="624.7" cy="58.1" r="2.55"/><circle cx="607" cy="67.5" r="2.55"/><circle cx="610.9" cy="68.5" r="2.55"/><circle cx="617.2" cy="86.2" r="2.55"/><circle cx="604.8" cy="93" r="2.55"/><circle cx="644.2" cy="54.4" r="2.55"/><circle cx="648.4" cy="51.1" r="2.55"/><circle cx="647.7" cy="85.9" r="2.55"/><circle cx="689.2" cy="24.3" r="2.55"/><circle cx="669.3" cy="36.5" r="2.55"/><circle cx="720.4" cy="37.2" r="2.55"/><circle cx="730.8" cy="41.7" r="2.55"/><circle cx="702.1" cy="51.6" r="2.55"/><circle cx="695.5" cy="56.7" r="2.55"/><circle cx="704.3" cy="57.6" r="2.55"/><circle cx="665.7" cy="58.6" r="2.55"/><circle cx="675.3" cy="61.5" r="2.55"/><circle cx="681.1" cy="62.5" r="2.55"/><circle cx="670.7" cy="68.8" r="2.55"/><circle cx="670.3" cy="77.9" r="2.55"/><circle cx="665.7" cy="78.6" r="2.55"/><circle cx="681.8" cy="87" r="2.55"/><circle cx="688.9" cy="87.5" r="2.55"/><circle cx="690.5" cy="87" r="2.55"/><circle cx="715.2" cy="68.7" r="2.55"/><circle cx="703.3" cy="74.1" r="2.55"/><circle cx="708.8" cy="73.5" r="2.55"/><circle cx="715.1" cy="77.1" r="2.55"/><circle cx="707.4" cy="83.6" r="2.55"/><circle cx="732.3" cy="79.1" r="2.55"/><circle cx="732.4" cy="88" r="2.55"/><circle cx="562.1" cy="118" r="2.55"/><circle cx="613.6" cy="115.6" r="2.55"/><circle cx="621" cy="115.3" r="2.55"/><circle cx="629" cy="122.4" r="2.55"/><circle cx="610.4" cy="124.9" r="2.55"/><circle cx="568.4" cy="136.5" r="2.55"/><circle cx="572.7" cy="138.3" r="2.55"/><circle cx="599.7" cy="137" r="2.55"/><circle cx="591.2" cy="139.5" r="2.55"/><circle cx="597.8" cy="143.8" r="2.55"/><circle cx="599.3" cy="147.4" r="2.55"/><circle cx="587.2" cy="150.4" r="2.55"/><circle cx="612.7" cy="147.1" r="2.55"/><circle cx="638.7" cy="135.7" r="2.55"/><circle cx="646.2" cy="141.3" r="2.55"/><circle cx="650" cy="144.8" r="2.55"/><circle cx="632.6" cy="152.2" r="2.55"/><circle cx="632" cy="154.7" r="2.55"/><circle cx="640.4" cy="156.2" r="2.55"/><circle cx="644.5" cy="155.9" r="2.55"/><circle cx="609.4" cy="163" r="2.55"/><circle cx="608.9" cy="166.2" r="2.55"/><circle cx="615.7" cy="166.3" r="2.55"/><circle cx="621" cy="168.3" r="2.55"/><circle cx="616.9" cy="170" r="2.55"/><circle cx="614.1" cy="172" r="2.55"/><circle cx="603.6" cy="174.9" r="2.55"/><circle cx="622" cy="176.9" r="2.55"/><circle cx="646.2" cy="162.8" r="2.55"/><circle cx="643.9" cy="168.3" r="2.55"/><circle cx="640.1" cy="170" r="2.55"/><circle cx="636.9" cy="170.5" r="2.55"/><circle cx="641.7" cy="179.1" r="2.55"/><circle cx="638.4" cy="179.9" r="2.55"/><circle cx="635.4" cy="180.7" r="2.55"/><circle cx="618.9" cy="181.9" r="2.55"/><circle cx="617.7" cy="185.2" r="2.55"/><circle cx="627.7" cy="184.5" r="2.55"/><circle cx="633" cy="185" r="2.55"/><circle cx="642.6" cy="187" r="2.55"/><circle cx="649.2" cy="182.7" r="2.55"/><circle cx="553.3" cy="191.7" r="2.55"/><circle cx="644.2" cy="200.6" r="2.55"/><circle cx="656.6" cy="134.4" r="2.55"/><circle cx="662.4" cy="143.1" r="2.55"/><circle cx="692.2" cy="135.5" r="2.55"/><circle cx="735.8" cy="136.5" r="2.55"/><circle cx="719.4" cy="145.1" r="2.55"/><circle cx="710.7" cy="147.8" r="2.55"/><circle cx="655.8" cy="156.2" r="2.55"/><circle cx="687.7" cy="156.4" r="2.55"/><circle cx="700.3" cy="156.4" r="2.55"/><circle cx="696.8" cy="160.5" r="2.55"/><circle cx="708.3" cy="160.5" r="2.55"/><circle cx="695.8" cy="168" r="2.55"/><circle cx="700.5" cy="176.6" r="2.55"/><circle cx="660.7" cy="181.2" r="2.55"/><circle cx="652" cy="184.2" r="2.55"/><circle cx="670.7" cy="193.2" r="2.55"/><circle cx="712.6" cy="198.5" r="2.55"/>
</g>
<g class="b" font-size="10.3" text-anchor="middle">
<text x="539.6" y="14.5" textLength="45.5" lengthAdjust="spacingAndGlyphs">47°30'0&quot;E</text>
<text x="605.9" y="14.5" textLength="45.5" lengthAdjust="spacingAndGlyphs">47°35'0&quot;E</text>
<text x="672.3" y="14.5" textLength="45.5" lengthAdjust="spacingAndGlyphs">47°40'0&quot;E</text>
<text x="738.6" y="14.5" textLength="45.5" lengthAdjust="spacingAndGlyphs">47°45'0&quot;E</text>
<text transform="translate(780.7 34.9) rotate(-90)" textLength="52.5" lengthAdjust="spacingAndGlyphs">35°58'30&quot;N</text>
<text transform="translate(780.7 109.4) rotate(-90)" textLength="46.5" lengthAdjust="spacingAndGlyphs">35°54'0&quot;N</text>
<text transform="translate(780.7 183.9) rotate(-90)" textLength="52.5" lengthAdjust="spacingAndGlyphs">35°49'30&quot;N</text>
</g>
<rect x="134.5" y="233.6" width="238.1" height="200.9" fill="none" stroke="#8a8a8a" stroke-opacity=".55" stroke-width=".6"/>
<path d="M150.1 233.6v-1.6M150.1 434.5v1.6M182.2 233.6v-1.6M182.2 434.5v1.6M214.4 233.6v-1.6M214.4 434.5v1.6M246.5 233.6v-1.6M246.5 434.5v1.6M278.7 233.6v-1.6M278.7 434.5v1.6M310.8 233.6v-1.6M310.8 434.5v1.6M343 233.6v-1.6M343 434.5v1.6M134.5 251.3h-1.6M372.6 251.3h1.6M134.5 277.3h-1.6M372.6 277.3h1.6M134.5 303.4h-1.6M372.6 303.4h1.6M134.5 329.4h-1.6M372.6 329.4h1.6M134.5 355.5h-1.6M372.6 355.5h1.6M134.5 381.5h-1.6M372.6 381.5h1.6M134.5 407.6h-1.6M372.6 407.6h1.6M134.5 433.6h-1.6M372.6 433.6h1.6" stroke="#666" stroke-width=".6" fill="none"/>
<g fill="#060606">
<circle cx="156.5" cy="249" r="2.55"/><circle cx="179.6" cy="248.2" r="2.55"/><circle cx="187.6" cy="253.4" r="2.55"/><circle cx="184.7" cy="255.8" r="2.55"/><circle cx="164.2" cy="260.5" r="2.55"/><circle cx="222.8" cy="246.1" r="2.55"/><circle cx="152.8" cy="276.5" r="2.55"/><circle cx="166.3" cy="280.8" r="2.55"/><circle cx="168.7" cy="284.7" r="2.55"/><circle cx="178.1" cy="287.4" r="2.55"/><circle cx="191.5" cy="281.3" r="2.55"/><circle cx="160.8" cy="291.6" r="2.55"/><circle cx="186.3" cy="299.9" r="2.55"/><circle cx="171.9" cy="303.7" r="2.55"/><circle cx="165.9" cy="311" r="2.55"/><circle cx="161.2" cy="313.3" r="2.55"/><circle cx="186.6" cy="316" r="2.55"/><circle cx="222.9" cy="269.9" r="2.55"/><circle cx="230.6" cy="266.5" r="2.55"/><circle cx="231.9" cy="271.2" r="2.55"/><circle cx="232.6" cy="275.6" r="2.55"/><circle cx="215.4" cy="285.5" r="2.55"/><circle cx="219.2" cy="286.6" r="2.55"/><circle cx="225.3" cy="305.1" r="2.55"/><circle cx="213.3" cy="312.2" r="2.55"/><circle cx="251.5" cy="271.8" r="2.55"/><circle cx="255.5" cy="268.3" r="2.55"/><circle cx="254.9" cy="304.8" r="2.55"/><circle cx="295.1" cy="240.2" r="2.55"/><circle cx="275.8" cy="253" r="2.55"/><circle cx="325.3" cy="253.7" r="2.55"/><circle cx="335.4" cy="258.5" r="2.55"/><circle cx="307.6" cy="268.8" r="2.55"/><circle cx="301.2" cy="274.2" r="2.55"/><circle cx="309.7" cy="275.1" r="2.55"/><circle cx="272.3" cy="276.2" r="2.55"/><circle cx="281.6" cy="279.2" r="2.55"/><circle cx="287.2" cy="280.3" r="2.55"/><circle cx="277.1" cy="286.9" r="2.55"/><circle cx="276.8" cy="296.4" r="2.55"/><circle cx="272.3" cy="297.1" r="2.55"/><circle cx="287.9" cy="305.9" r="2.55"/><circle cx="294.8" cy="306.5" r="2.55"/><circle cx="296.3" cy="305.9" r="2.55"/><circle cx="320.3" cy="286.8" r="2.55"/><circle cx="308.7" cy="292.4" r="2.55"/><circle cx="314.1" cy="291.8" r="2.55"/><circle cx="320.2" cy="295.6" r="2.55"/><circle cx="312.7" cy="302.4" r="2.55"/><circle cx="336.8" cy="297.7" r="2.55"/><circle cx="336.9" cy="307" r="2.55"/><circle cx="171.9" cy="338.5" r="2.55"/><circle cx="221.8" cy="335.9" r="2.55"/><circle cx="229" cy="335.6" r="2.55"/><circle cx="236.7" cy="343.1" r="2.55"/><circle cx="218.7" cy="345.7" r="2.55"/><circle cx="178" cy="357.9" r="2.55"/><circle cx="182.2" cy="359.7" r="2.55"/><circle cx="208.3" cy="358.4" r="2.55"/><circle cx="200.1" cy="361" r="2.55"/><circle cx="206.5" cy="365.5" r="2.55"/><circle cx="208" cy="369.3" r="2.55"/><circle cx="196.2" cy="372.4" r="2.55"/><circle cx="220.9" cy="369" r="2.55"/><circle cx="246.1" cy="357" r="2.55"/><circle cx="253.4" cy="362.9" r="2.55"/><circle cx="257.1" cy="366.6" r="2.55"/><circle cx="240.2" cy="374.3" r="2.55"/><circle cx="239.6" cy="376.9" r="2.55"/><circle cx="247.8" cy="378.5" r="2.55"/><circle cx="251.8" cy="378.2" r="2.55"/><circle cx="217.7" cy="385.6" r="2.55"/><circle cx="217.3" cy="389" r="2.55"/><circle cx="223.8" cy="389.1" r="2.55"/><circle cx="229" cy="391.2" r="2.55"/><circle cx="225" cy="393" r="2.55"/><circle cx="222.3" cy="395.1" r="2.55"/><circle cx="212.1" cy="398.1" r="2.55"/><circle cx="230" cy="400.2" r="2.55"/><circle cx="253.4" cy="385.4" r="2.55"/><circle cx="251.2" cy="391.2" r="2.55"/><circle cx="247.5" cy="393" r="2.55"/><circle cx="244.4" cy="393.5" r="2.55"/><circle cx="249" cy="402.5" r="2.55"/><circle cx="245.8" cy="403.4" r="2.55"/><circle cx="242.9" cy="404.2" r="2.55"/><circle cx="226.9" cy="405.5" r="2.55"/><circle cx="225.8" cy="408.9" r="2.55"/><circle cx="235.5" cy="408.2" r="2.55"/><circle cx="240.6" cy="408.7" r="2.55"/><circle cx="249.9" cy="410.8" r="2.55"/><circle cx="256.3" cy="406.3" r="2.55"/><circle cx="163.4" cy="415.7" r="2.55"/><circle cx="251.5" cy="425.1" r="2.55"/><circle cx="263.5" cy="355.6" r="2.55"/><circle cx="269.1" cy="364.8" r="2.55"/><circle cx="298" cy="356.8" r="2.55"/><circle cx="340.2" cy="357.9" r="2.55"/><circle cx="324.3" cy="366.9" r="2.55"/><circle cx="315.9" cy="369.7" r="2.55"/><circle cx="262.7" cy="378.5" r="2.55"/><circle cx="293.6" cy="378.7" r="2.55"/><circle cx="305.8" cy="378.7" r="2.55"/><circle cx="302.4" cy="383" r="2.55"/><circle cx="313.6" cy="383" r="2.55"/><circle cx="301.5" cy="390.9" r="2.55"/><circle cx="306" cy="399.9" r="2.55"/><circle cx="267.5" cy="404.7" r="2.55"/><circle cx="259" cy="407.9" r="2.55"/><circle cx="277.1" cy="417.3" r="2.55"/><circle cx="317.8" cy="422.9" r="2.55"/>
</g>
<g class="b" font-size="10.3" text-anchor="middle">
<text x="150.1" y="230.1" textLength="45.5" lengthAdjust="spacingAndGlyphs">47°30'0&quot;E</text>
<text x="214.4" y="230.1" textLength="45.5" lengthAdjust="spacingAndGlyphs">47°35'0&quot;E</text>
<text x="278.7" y="230.1" textLength="45.5" lengthAdjust="spacingAndGlyphs">47°40'0&quot;E</text>
<text x="343" y="230.1" textLength="45.5" lengthAdjust="spacingAndGlyphs">47°45'0&quot;E</text>
<text transform="translate(384.1 251.3) rotate(-90)" textLength="52.5" lengthAdjust="spacingAndGlyphs">35°58'30&quot;N</text>
<text transform="translate(384.1 329.4) rotate(-90)" textLength="46.5" lengthAdjust="spacingAndGlyphs">35°54'0&quot;N</text>
<text transform="translate(384.1 407.6) rotate(-90)" textLength="52.5" lengthAdjust="spacingAndGlyphs">35°49'30&quot;N</text>
</g>
<rect x="525.6" y="233.7" width="243.8" height="201.3" fill="none" stroke="#8a8a8a" stroke-opacity=".55" stroke-width=".6"/>
<path d="M541.6 233.7v-1.6M541.6 435v1.6M574.5 233.7v-1.6M574.5 435v1.6M607.4 233.7v-1.6M607.4 435v1.6M640.3 233.7v-1.6M640.3 435v1.6M673.2 233.7v-1.6M673.2 435v1.6M706.1 233.7v-1.6M706.1 435v1.6M739 233.7v-1.6M739 435v1.6M525.6 251.4h-1.6M769.4 251.4h1.6M525.6 277.5h-1.6M769.4 277.5h1.6M525.6 303.6h-1.6M769.4 303.6h1.6M525.6 329.7h-1.6M769.4 329.7h1.6M525.6 355.8h-1.6M769.4 355.8h1.6M525.6 381.9h-1.6M769.4 381.9h1.6M525.6 408h-1.6M769.4 408h1.6M525.6 434.1h-1.6M769.4 434.1h1.6" stroke="#666" stroke-width=".6" fill="none"/>
<g fill="#060606">
<circle cx="548.1" cy="249.1" r="2.55"/><circle cx="571.7" cy="248.3" r="2.55"/><circle cx="580" cy="253.6" r="2.55"/><circle cx="577" cy="256" r="2.55"/><circle cx="556" cy="260.7" r="2.55"/><circle cx="616" cy="246.2" r="2.55"/><circle cx="544.4" cy="276.7" r="2.55"/><circle cx="558.1" cy="281" r="2.55"/><circle cx="560.6" cy="284.9" r="2.55"/><circle cx="570.3" cy="287.6" r="2.55"/><circle cx="583.9" cy="281.5" r="2.55"/><circle cx="552.5" cy="291.8" r="2.55"/><circle cx="578.7" cy="300.1" r="2.55"/><circle cx="563.9" cy="304" r="2.55"/><circle cx="557.7" cy="311.2" r="2.55"/><circle cx="553" cy="313.5" r="2.55"/><circle cx="579" cy="316.3" r="2.55"/><circle cx="616.1" cy="270.1" r="2.55"/><circle cx="624" cy="266.7" r="2.55"/><circle cx="625.3" cy="271.4" r="2.55"/><circle cx="626" cy="275.8" r="2.55"/><circle cx="608.5" cy="285.7" r="2.55"/><circle cx="612.3" cy="286.8" r="2.55"/><circle cx="618.6" cy="305.4" r="2.55"/><circle cx="606.3" cy="312.5" r="2.55"/><circle cx="645.4" cy="271.9" r="2.55"/><circle cx="649.5" cy="268.5" r="2.55"/><circle cx="648.8" cy="305" r="2.55"/><circle cx="690" cy="240.3" r="2.55"/><circle cx="670.3" cy="253.1" r="2.55"/><circle cx="721" cy="253.9" r="2.55"/><circle cx="731.3" cy="258.6" r="2.55"/><circle cx="702.8" cy="269" r="2.55"/><circle cx="696.3" cy="274.4" r="2.55"/><circle cx="705" cy="275.3" r="2.55"/><circle cx="666.7" cy="276.4" r="2.55"/><circle cx="676.2" cy="279.4" r="2.55"/><circle cx="682" cy="280.5" r="2.55"/><circle cx="671.7" cy="287.1" r="2.55"/><circle cx="671.3" cy="296.6" r="2.55"/><circle cx="666.7" cy="297.4" r="2.55"/><circle cx="682.7" cy="306.2" r="2.55"/><circle cx="689.7" cy="306.7" r="2.55"/><circle cx="691.3" cy="306.2" r="2.55"/><circle cx="715.8" cy="287" r="2.55"/><circle cx="704" cy="292.6" r="2.55"/><circle cx="709.5" cy="292" r="2.55"/><circle cx="715.7" cy="295.8" r="2.55"/><circle cx="708.1" cy="302.6" r="2.55"/><circle cx="732.8" cy="297.9" r="2.55"/><circle cx="732.9" cy="307.2" r="2.55"/><circle cx="563.9" cy="338.8" r="2.55"/><circle cx="615" cy="336.2" r="2.55"/><circle cx="622.3" cy="335.9" r="2.55"/><circle cx="630.3" cy="343.4" r="2.55"/><circle cx="611.8" cy="346" r="2.55"/><circle cx="570.2" cy="358.2" r="2.55"/><circle cx="574.4" cy="360.1" r="2.55"/><circle cx="601.2" cy="358.7" r="2.55"/><circle cx="592.8" cy="361.4" r="2.55"/><circle cx="599.3" cy="365.9" r="2.55"/><circle cx="600.8" cy="369.7" r="2.55"/><circle cx="588.8" cy="372.8" r="2.55"/><circle cx="614.1" cy="369.3" r="2.55"/><circle cx="639.9" cy="357.4" r="2.55"/><circle cx="647.4" cy="363.2" r="2.55"/><circle cx="651.1" cy="366.9" r="2.55"/><circle cx="633.9" cy="374.7" r="2.55"/><circle cx="633.3" cy="377.3" r="2.55"/><circle cx="641.6" cy="378.9" r="2.55"/><circle cx="645.7" cy="378.6" r="2.55"/><circle cx="610.8" cy="386" r="2.55"/><circle cx="610.3" cy="389.4" r="2.55"/><circle cx="617.1" cy="389.5" r="2.55"/><circle cx="622.3" cy="391.6" r="2.55"/><circle cx="618.3" cy="393.4" r="2.55"/><circle cx="615.5" cy="395.5" r="2.55"/><circle cx="605.1" cy="398.5" r="2.55"/><circle cx="623.3" cy="400.6" r="2.55"/><circle cx="647.4" cy="385.8" r="2.55"/><circle cx="645.1" cy="391.6" r="2.55"/><circle cx="641.3" cy="393.4" r="2.55"/><circle cx="638.1" cy="393.9" r="2.55"/><circle cx="642.9" cy="403" r="2.55"/><circle cx="639.6" cy="403.8" r="2.55"/><circle cx="636.6" cy="404.6" r="2.55"/><circle cx="620.3" cy="405.9" r="2.55"/><circle cx="619.1" cy="409.4" r="2.55"/><circle cx="629" cy="408.6" r="2.55"/><circle cx="634.3" cy="409.2" r="2.55"/><circle cx="643.8" cy="411.3" r="2.55"/><circle cx="650.3" cy="406.7" r="2.55"/><circle cx="555.2" cy="416.2" r="2.55"/><circle cx="645.4" cy="425.5" r="2.55"/><circle cx="657.7" cy="356" r="2.55"/><circle cx="663.4" cy="365.1" r="2.55"/><circle cx="693" cy="357.1" r="2.55"/><circle cx="736.3" cy="358.2" r="2.55"/><circle cx="720" cy="367.2" r="2.55"/><circle cx="711.4" cy="370.1" r="2.55"/><circle cx="656.9" cy="378.9" r="2.55"/><circle cx="688.5" cy="379.1" r="2.55"/><circle cx="701" cy="379.1" r="2.55"/><circle cx="697.6" cy="383.4" r="2.55"/><circle cx="709" cy="383.4" r="2.55"/><circle cx="696.6" cy="391.3" r="2.55"/><circle cx="701.2" cy="400.3" r="2.55"/><circle cx="661.7" cy="405.2" r="2.55"/><circle cx="653.1" cy="408.3" r="2.55"/><circle cx="671.7" cy="417.8" r="2.55"/><circle cx="713.2" cy="423.3" r="2.55"/>
</g>
<g class="b" font-size="10.3" text-anchor="middle">
<text x="541.6" y="230.2" textLength="45.5" lengthAdjust="spacingAndGlyphs">47°30'0&quot;E</text>
<text x="607.4" y="230.2" textLength="45.5" lengthAdjust="spacingAndGlyphs">47°35'0&quot;E</text>
<text x="673.2" y="230.2" textLength="45.5" lengthAdjust="spacingAndGlyphs">47°40'0&quot;E</text>
<text x="739" y="230.2" textLength="45.5" lengthAdjust="spacingAndGlyphs">47°45'0&quot;E</text>
<text transform="translate(780.9 251.4) rotate(-90)" textLength="52.5" lengthAdjust="spacingAndGlyphs">35°58'30&quot;N</text>
<text transform="translate(780.9 329.7) rotate(-90)" textLength="46.5" lengthAdjust="spacingAndGlyphs">35°54'0&quot;N</text>
<text transform="translate(780.9 408) rotate(-90)" textLength="52.5" lengthAdjust="spacingAndGlyphs">35°49'30&quot;N</text>
</g>
<rect x="135.4" y="459.3" width="239.6" height="203.4" fill="none" stroke="#8a8a8a" stroke-opacity=".55" stroke-width=".6"/>
<path d="M151.1 459.3v-1.6M151.1 662.7v1.6M183.4 459.3v-1.6M183.4 662.7v1.6M215.8 459.3v-1.6M215.8 662.7v1.6M248.1 459.3v-1.6M248.1 662.7v1.6M280.5 459.3v-1.6M280.5 662.7v1.6M312.8 459.3v-1.6M312.8 662.7v1.6M345.2 459.3v-1.6M345.2 662.7v1.6M135.4 477.2h-1.6M375 477.2h1.6M135.4 503.6h-1.6M375 503.6h1.6M135.4 529.9h-1.6M375 529.9h1.6M135.4 556.3h-1.6M375 556.3h1.6M135.4 582.7h-1.6M375 582.7h1.6M135.4 609.1h-1.6M375 609.1h1.6M135.4 635.4h-1.6M375 635.4h1.6M135.4 661.8h-1.6M375 661.8h1.6" stroke="#666" stroke-width=".6" fill="none"/>
<g fill="#060606">
<circle cx="157.5" cy="474.9" r="2.55"/><circle cx="180.7" cy="474.1" r="2.55"/><circle cx="188.8" cy="479.4" r="2.55"/><circle cx="185.9" cy="481.8" r="2.55"/><circle cx="165.2" cy="486.6" r="2.55"/><circle cx="224.2" cy="471.9" r="2.55"/><circle cx="153.8" cy="502.7" r="2.55"/><circle cx="167.4" cy="507.1" r="2.55"/><circle cx="169.8" cy="511" r="2.55"/><circle cx="179.3" cy="513.8" r="2.55"/><circle cx="192.7" cy="507.6" r="2.55"/><circle cx="161.8" cy="518" r="2.55"/><circle cx="187.6" cy="526.4" r="2.55"/><circle cx="173" cy="530.3" r="2.55"/><circle cx="167" cy="537.6" r="2.55"/><circle cx="162.3" cy="540" r="2.55"/><circle cx="187.9" cy="542.7" r="2.55"/><circle cx="224.3" cy="496" r="2.55"/><circle cx="232.1" cy="492.6" r="2.55"/><circle cx="233.4" cy="497.4" r="2.55"/><circle cx="234.1" cy="501.9" r="2.55"/><circle cx="216.8" cy="511.8" r="2.55"/><circle cx="220.6" cy="512.9" r="2.55"/><circle cx="226.8" cy="531.7" r="2.55"/><circle cx="214.7" cy="538.9" r="2.55"/><circle cx="253.1" cy="497.9" r="2.55"/><circle cx="257.2" cy="494.4" r="2.55"/><circle cx="256.5" cy="531.4" r="2.55"/><circle cx="297" cy="466" r="2.55"/><circle cx="277.6" cy="478.9" r="2.55"/><circle cx="327.4" cy="479.7" r="2.55"/><circle cx="337.6" cy="484.5" r="2.55"/><circle cx="309.6" cy="495" r="2.55"/><circle cx="303.1" cy="500.4" r="2.55"/><circle cx="311.7" cy="501.3" r="2.55"/><circle cx="274.1" cy="502.4" r="2.55"/><circle cx="283.4" cy="505.5" r="2.55"/><circle cx="289.1" cy="506.5" r="2.55"/><circle cx="278.9" cy="513.2" r="2.55"/><circle cx="278.6" cy="522.9" r="2.55"/><circle cx="274.1" cy="523.6" r="2.55"/><circle cx="289.8" cy="532.5" r="2.55"/><circle cx="296.7" cy="533.1" r="2.55"/><circle cx="298.3" cy="532.5" r="2.55"/><circle cx="322.3" cy="513.1" r="2.55"/><circle cx="310.7" cy="518.9" r="2.55"/><circle cx="316.1" cy="518.2" r="2.55"/><circle cx="322.2" cy="522" r="2.55"/><circle cx="314.7" cy="528.9" r="2.55"/><circle cx="339" cy="524.2" r="2.55"/><circle cx="339.1" cy="533.6" r="2.55"/><circle cx="173" cy="565.5" r="2.55"/><circle cx="223.3" cy="562.9" r="2.55"/><circle cx="230.5" cy="562.6" r="2.55"/><circle cx="238.3" cy="570.1" r="2.55"/><circle cx="220.1" cy="572.8" r="2.55"/><circle cx="179.2" cy="585.1" r="2.55"/><circle cx="183.4" cy="587" r="2.55"/><circle cx="209.7" cy="585.6" r="2.55"/><circle cx="201.4" cy="588.3" r="2.55"/><circle cx="207.9" cy="592.8" r="2.55"/><circle cx="209.3" cy="596.7" r="2.55"/><circle cx="197.5" cy="599.9" r="2.55"/><circle cx="222.4" cy="596.4" r="2.55"/><circle cx="247.7" cy="584.2" r="2.55"/><circle cx="255.1" cy="590.2" r="2.55"/><circle cx="258.8" cy="593.9" r="2.55"/><circle cx="241.8" cy="601.8" r="2.55"/><circle cx="241.2" cy="604.4" r="2.55"/><circle cx="249.4" cy="606" r="2.55"/><circle cx="253.4" cy="605.7" r="2.55"/><circle cx="219.2" cy="613.2" r="2.55"/><circle cx="218.7" cy="616.6" r="2.55"/><circle cx="225.3" cy="616.7" r="2.55"/><circle cx="230.5" cy="618.9" r="2.55"/><circle cx="226.5" cy="620.7" r="2.55"/><circle cx="223.8" cy="622.8" r="2.55"/><circle cx="213.5" cy="625.9" r="2.55"/><circle cx="231.5" cy="628" r="2.55"/><circle cx="255.1" cy="613" r="2.55"/><circle cx="252.8" cy="618.9" r="2.55"/><circle cx="249.1" cy="620.7" r="2.55"/><circle cx="246" cy="621.2" r="2.55"/><circle cx="250.7" cy="630.3" r="2.55"/><circle cx="247.4" cy="631.2" r="2.55"/><circle cx="244.5" cy="632" r="2.55"/><circle cx="228.4" cy="633.3" r="2.55"/><circle cx="227.3" cy="636.8" r="2.55"/><circle cx="237" cy="636.1" r="2.55"/><circle cx="242.2" cy="636.6" r="2.55"/><circle cx="251.5" cy="638.7" r="2.55"/><circle cx="258" cy="634.1" r="2.55"/><circle cx="164.5" cy="643.7" r="2.55"/><circle cx="253.1" cy="653.1" r="2.55"/><circle cx="265.2" cy="582.9" r="2.55"/><circle cx="270.9" cy="592.1" r="2.55"/><circle cx="299.9" cy="584" r="2.55"/><circle cx="342.4" cy="585.1" r="2.55"/><circle cx="326.4" cy="594.2" r="2.55"/><circle cx="318" cy="597.1" r="2.55"/><circle cx="264.4" cy="606" r="2.55"/><circle cx="295.5" cy="606.2" r="2.55"/><circle cx="307.8" cy="606.2" r="2.55"/><circle cx="304.4" cy="610.6" r="2.55"/><circle cx="315.6" cy="610.6" r="2.55"/><circle cx="303.4" cy="618.5" r="2.55"/><circle cx="308" cy="627.7" r="2.55"/><circle cx="269.2" cy="632.6" r="2.55"/><circle cx="260.7" cy="635.7" r="2.55"/><circle cx="278.9" cy="645.3" r="2.55"/><circle cx="319.8" cy="650.9" r="2.55"/>
</g>
<g class="b" font-size="10.3" text-anchor="middle">
<text x="151.1" y="455.8" textLength="45.5" lengthAdjust="spacingAndGlyphs">47°30'0&quot;E</text>
<text x="215.8" y="455.8" textLength="45.5" lengthAdjust="spacingAndGlyphs">47°35'0&quot;E</text>
<text x="280.5" y="455.8" textLength="45.5" lengthAdjust="spacingAndGlyphs">47°40'0&quot;E</text>
<text x="345.2" y="455.8" textLength="45.5" lengthAdjust="spacingAndGlyphs">47°45'0&quot;E</text>
<text transform="translate(386.5 477.2) rotate(-90)" textLength="52.5" lengthAdjust="spacingAndGlyphs">35°58'30&quot;N</text>
<text transform="translate(386.5 556.3) rotate(-90)" textLength="46.5" lengthAdjust="spacingAndGlyphs">35°54'0&quot;N</text>
<text transform="translate(386.5 635.4) rotate(-90)" textLength="52.5" lengthAdjust="spacingAndGlyphs">35°49'30&quot;N</text>
</g>
<rect x="527.5" y="459" width="240.3" height="203.7" fill="none" stroke="#8a8a8a" stroke-opacity=".55" stroke-width=".6"/>
<path d="M543.2 459v-1.6M543.2 662.7v1.6M575.7 459v-1.6M575.7 662.7v1.6M608.1 459v-1.6M608.1 662.7v1.6M640.6 459v-1.6M640.6 662.7v1.6M673 459v-1.6M673 662.7v1.6M705.4 459v-1.6M705.4 662.7v1.6M737.9 459v-1.6M737.9 662.7v1.6M527.5 476.9h-1.6M767.8 476.9h1.6M527.5 503.3h-1.6M767.8 503.3h1.6M527.5 529.8h-1.6M767.8 529.8h1.6M527.5 556.2h-1.6M767.8 556.2h1.6M527.5 582.6h-1.6M767.8 582.6h1.6M527.5 609h-1.6M767.8 609h1.6M527.5 635.4h-1.6M767.8 635.4h1.6M527.5 661.8h-1.6M767.8 661.8h1.6" stroke="#666" stroke-width=".6" fill="none"/>
<g fill="#060606">
<circle cx="549.7" cy="474.6" r="2.55"/><circle cx="573" cy="473.8" r="2.55"/><circle cx="581.1" cy="479.1" r="2.55"/><circle cx="578.2" cy="481.5" r="2.55"/><circle cx="557.4" cy="486.3" r="2.55"/><circle cx="616.6" cy="471.7" r="2.55"/><circle cx="546" cy="502.5" r="2.55"/><circle cx="559.6" cy="506.8" r="2.55"/><circle cx="562" cy="510.8" r="2.55"/><circle cx="571.5" cy="513.5" r="2.55"/><circle cx="585" cy="507.4" r="2.55"/><circle cx="554" cy="517.8" r="2.55"/><circle cx="579.8" cy="526.2" r="2.55"/><circle cx="565.3" cy="530.1" r="2.55"/><circle cx="559.2" cy="537.5" r="2.55"/><circle cx="554.5" cy="539.8" r="2.55"/><circle cx="580.1" cy="542.6" r="2.55"/><circle cx="616.7" cy="495.8" r="2.55"/><circle cx="624.5" cy="492.4" r="2.55"/><circle cx="625.8" cy="497.2" r="2.55"/><circle cx="626.5" cy="501.6" r="2.55"/><circle cx="609.2" cy="511.6" r="2.55"/><circle cx="613" cy="512.7" r="2.55"/><circle cx="619.1" cy="531.5" r="2.55"/><circle cx="607" cy="538.7" r="2.55"/><circle cx="645.5" cy="497.7" r="2.55"/><circle cx="649.7" cy="494.2" r="2.55"/><circle cx="649" cy="531.2" r="2.55"/><circle cx="689.6" cy="465.7" r="2.55"/><circle cx="670.1" cy="478.7" r="2.55"/><circle cx="720.1" cy="479.4" r="2.55"/><circle cx="730.2" cy="484.2" r="2.55"/><circle cx="702.2" cy="494.7" r="2.55"/><circle cx="695.7" cy="500.1" r="2.55"/><circle cx="704.3" cy="501.1" r="2.55"/><circle cx="666.6" cy="502.2" r="2.55"/><circle cx="676" cy="505.2" r="2.55"/><circle cx="681.6" cy="506.3" r="2.55"/><circle cx="671.5" cy="513" r="2.55"/><circle cx="671.1" cy="522.7" r="2.55"/><circle cx="666.6" cy="523.4" r="2.55"/><circle cx="682.3" cy="532.4" r="2.55"/><circle cx="689.3" cy="532.9" r="2.55"/><circle cx="690.8" cy="532.4" r="2.55"/><circle cx="715" cy="512.9" r="2.55"/><circle cx="703.3" cy="518.6" r="2.55"/><circle cx="708.7" cy="518" r="2.55"/><circle cx="714.9" cy="521.8" r="2.55"/><circle cx="707.4" cy="528.7" r="2.55"/><circle cx="731.7" cy="524" r="2.55"/><circle cx="731.8" cy="533.4" r="2.55"/><circle cx="565.3" cy="565.3" r="2.55"/><circle cx="615.6" cy="562.8" r="2.55"/><circle cx="622.9" cy="562.4" r="2.55"/><circle cx="630.7" cy="570" r="2.55"/><circle cx="612.5" cy="572.7" r="2.55"/><circle cx="571.4" cy="585" r="2.55"/><circle cx="575.6" cy="586.9" r="2.55"/><circle cx="602" cy="585.5" r="2.55"/><circle cx="593.7" cy="588.2" r="2.55"/><circle cx="600.2" cy="592.7" r="2.55"/><circle cx="601.6" cy="596.6" r="2.55"/><circle cx="589.8" cy="599.8" r="2.55"/><circle cx="614.7" cy="596.3" r="2.55"/><circle cx="640.2" cy="584.1" r="2.55"/><circle cx="647.5" cy="590.1" r="2.55"/><circle cx="651.2" cy="593.8" r="2.55"/><circle cx="634.2" cy="601.7" r="2.55"/><circle cx="633.6" cy="604.3" r="2.55"/><circle cx="641.8" cy="605.9" r="2.55"/><circle cx="645.8" cy="605.6" r="2.55"/><circle cx="611.5" cy="613.2" r="2.55"/><circle cx="611" cy="616.6" r="2.55"/><circle cx="617.7" cy="616.7" r="2.55"/><circle cx="622.9" cy="618.8" r="2.55"/><circle cx="618.8" cy="620.6" r="2.55"/><circle cx="616.1" cy="622.7" r="2.55"/><circle cx="605.8" cy="625.8" r="2.55"/><circle cx="623.8" cy="627.9" r="2.55"/><circle cx="647.5" cy="612.9" r="2.55"/><circle cx="645.3" cy="618.8" r="2.55"/><circle cx="641.5" cy="620.6" r="2.55"/><circle cx="638.4" cy="621.1" r="2.55"/><circle cx="643.1" cy="630.3" r="2.55"/><circle cx="639.9" cy="631.1" r="2.55"/><circle cx="636.9" cy="632" r="2.55"/><circle cx="620.8" cy="633.3" r="2.55"/><circle cx="619.6" cy="636.8" r="2.55"/><circle cx="629.4" cy="636" r="2.55"/><circle cx="634.6" cy="636.5" r="2.55"/><circle cx="644" cy="638.7" r="2.55"/><circle cx="650.4" cy="634.1" r="2.55"/><circle cx="556.6" cy="643.7" r="2.55"/><circle cx="645.5" cy="653.1" r="2.55"/><circle cx="657.7" cy="582.8" r="2.55"/><circle cx="663.3" cy="592" r="2.55"/><circle cx="692.5" cy="583.9" r="2.55"/><circle cx="735.1" cy="585" r="2.55"/><circle cx="719.1" cy="594.1" r="2.55"/><circle cx="710.6" cy="597" r="2.55"/><circle cx="656.9" cy="605.9" r="2.55"/><circle cx="688.1" cy="606.1" r="2.55"/><circle cx="700.4" cy="606.1" r="2.55"/><circle cx="697" cy="610.5" r="2.55"/><circle cx="708.2" cy="610.5" r="2.55"/><circle cx="696" cy="618.5" r="2.55"/><circle cx="700.6" cy="627.6" r="2.55"/><circle cx="661.7" cy="632.5" r="2.55"/><circle cx="653.2" cy="635.7" r="2.55"/><circle cx="671.5" cy="645.3" r="2.55"/><circle cx="712.4" cy="650.9" r="2.55"/>
</g>
<g class="b" font-size="10.3" text-anchor="middle">
<text x="543.2" y="455.5" textLength="45.5" lengthAdjust="spacingAndGlyphs">47°30'0&quot;E</text>
<text x="608.1" y="455.5" textLength="45.5" lengthAdjust="spacingAndGlyphs">47°35'0&quot;E</text>
<text x="673" y="455.5" textLength="45.5" lengthAdjust="spacingAndGlyphs">47°40'0&quot;E</text>
<text x="737.9" y="455.5" textLength="45.5" lengthAdjust="spacingAndGlyphs">47°45'0&quot;E</text>
<text transform="translate(779.3 476.9) rotate(-90)" textLength="52.5" lengthAdjust="spacingAndGlyphs">35°58'30&quot;N</text>
<text transform="translate(779.3 556.2) rotate(-90)" textLength="46.5" lengthAdjust="spacingAndGlyphs">35°54'0&quot;N</text>
<text transform="translate(779.3 635.4) rotate(-90)" textLength="52.5" lengthAdjust="spacingAndGlyphs">35°49'30&quot;N</text>
</g>
<rect x="331.7" y="686.7" width="240.7" height="197.3" fill="none" stroke="#8a8a8a" stroke-opacity=".55" stroke-width=".6"/>
<path d="M347.5 686.7v-1.6M347.5 884v1.6M380 686.7v-1.6M380 884v1.6M412.5 686.7v-1.6M412.5 884v1.6M444.9 686.7v-1.6M444.9 884v1.6M477.4 686.7v-1.6M477.4 884v1.6M509.9 686.7v-1.6M509.9 884v1.6M542.4 686.7v-1.6M542.4 884v1.6M331.7 704.1h-1.6M572.4 704.1h1.6M331.7 729.6h-1.6M572.4 729.6h1.6M331.7 755.2h-1.6M572.4 755.2h1.6M331.7 780.8h-1.6M572.4 780.8h1.6M331.7 806.4h-1.6M572.4 806.4h1.6M331.7 832h-1.6M572.4 832h1.6M331.7 857.6h-1.6M572.4 857.6h1.6M331.7 883.1h-1.6M572.4 883.1h1.6" stroke="#666" stroke-width=".6" fill="none"/>
<g fill="#060606">
<circle cx="353.9" cy="701.8" r="2.55"/><circle cx="377.3" cy="701" r="2.55"/><circle cx="385.4" cy="706.2" r="2.55"/><circle cx="382.4" cy="708.5" r="2.55"/><circle cx="361.7" cy="713.2" r="2.55"/><circle cx="420.9" cy="699" r="2.55"/><circle cx="350.2" cy="728.8" r="2.55"/><circle cx="363.8" cy="733" r="2.55"/><circle cx="366.3" cy="736.8" r="2.55"/><circle cx="375.8" cy="739.5" r="2.55"/><circle cx="389.3" cy="733.6" r="2.55"/><circle cx="358.2" cy="743.6" r="2.55"/><circle cx="384.1" cy="751.8" r="2.55"/><circle cx="369.5" cy="755.6" r="2.55"/><circle cx="363.4" cy="762.7" r="2.55"/><circle cx="358.7" cy="765" r="2.55"/><circle cx="384.4" cy="767.6" r="2.55"/><circle cx="421" cy="722.3" r="2.55"/><circle cx="428.9" cy="719" r="2.55"/><circle cx="430.2" cy="723.7" r="2.55"/><circle cx="430.8" cy="728" r="2.55"/><circle cx="413.5" cy="737.7" r="2.55"/><circle cx="417.3" cy="738.7" r="2.55"/><circle cx="423.5" cy="756.9" r="2.55"/><circle cx="411.3" cy="763.9" r="2.55"/><circle cx="449.9" cy="724.2" r="2.55"/><circle cx="454.1" cy="720.8" r="2.55"/><circle cx="453.4" cy="756.6" r="2.55"/><circle cx="494" cy="693.2" r="2.55"/><circle cx="474.5" cy="705.8" r="2.55"/><circle cx="524.6" cy="706.5" r="2.55"/><circle cx="534.8" cy="711.1" r="2.55"/><circle cx="506.7" cy="721.3" r="2.55"/><circle cx="500.2" cy="726.6" r="2.55"/><circle cx="508.8" cy="727.5" r="2.55"/><circle cx="471" cy="728.5" r="2.55"/><circle cx="480.4" cy="731.5" r="2.55"/><circle cx="486.1" cy="732.5" r="2.55"/><circle cx="475.9" cy="739" r="2.55"/><circle cx="475.5" cy="748.4" r="2.55"/><circle cx="471" cy="749.1" r="2.55"/><circle cx="486.8" cy="757.8" r="2.55"/><circle cx="493.7" cy="758.3" r="2.55"/><circle cx="495.3" cy="757.8" r="2.55"/><circle cx="519.5" cy="738.9" r="2.55"/><circle cx="507.8" cy="744.5" r="2.55"/><circle cx="513.2" cy="743.9" r="2.55"/><circle cx="519.4" cy="747.6" r="2.55"/><circle cx="511.9" cy="754.3" r="2.55"/><circle cx="536.3" cy="749.6" r="2.55"/><circle cx="536.3" cy="758.8" r="2.55"/><circle cx="369.5" cy="789.7" r="2.55"/><circle cx="420" cy="787.2" r="2.55"/><circle cx="427.2" cy="786.9" r="2.55"/><circle cx="435.1" cy="794.2" r="2.55"/><circle cx="416.8" cy="796.8" r="2.55"/><circle cx="375.7" cy="808.7" r="2.55"/><circle cx="379.9" cy="810.6" r="2.55"/><circle cx="406.3" cy="809.2" r="2.55"/><circle cx="398" cy="811.8" r="2.55"/><circle cx="404.5" cy="816.2" r="2.55"/><circle cx="406" cy="819.9" r="2.55"/><circle cx="394.1" cy="823" r="2.55"/><circle cx="419.1" cy="819.6" r="2.55"/><circle cx="444.6" cy="807.9" r="2.55"/><circle cx="451.9" cy="813.7" r="2.55"/><circle cx="455.6" cy="817.3" r="2.55"/><circle cx="438.6" cy="824.9" r="2.55"/><circle cx="438" cy="827.5" r="2.55"/><circle cx="446.2" cy="829" r="2.55"/><circle cx="450.2" cy="828.7" r="2.55"/><circle cx="415.9" cy="836" r="2.55"/><circle cx="415.4" cy="839.3" r="2.55"/><circle cx="422" cy="839.4" r="2.55"/><circle cx="427.2" cy="841.5" r="2.55"/><circle cx="423.2" cy="843.2" r="2.55"/><circle cx="420.5" cy="845.3" r="2.55"/><circle cx="410.2" cy="848.3" r="2.55"/><circle cx="428.2" cy="850.3" r="2.55"/><circle cx="451.9" cy="835.8" r="2.55"/><circle cx="449.6" cy="841.5" r="2.55"/><circle cx="445.9" cy="843.2" r="2.55"/><circle cx="442.8" cy="843.7" r="2.55"/><circle cx="447.5" cy="852.6" r="2.55"/><circle cx="444.3" cy="853.4" r="2.55"/><circle cx="441.3" cy="854.2" r="2.55"/><circle cx="425.2" cy="855.5" r="2.55"/><circle cx="424" cy="858.9" r="2.55"/><circle cx="433.8" cy="858.2" r="2.55"/><circle cx="439" cy="858.7" r="2.55"/><circle cx="448.4" cy="860.7" r="2.55"/><circle cx="454.8" cy="856.3" r="2.55"/><circle cx="360.9" cy="865.6" r="2.55"/><circle cx="449.9" cy="874.7" r="2.55"/><circle cx="462.1" cy="806.6" r="2.55"/><circle cx="467.8" cy="815.5" r="2.55"/><circle cx="497" cy="807.7" r="2.55"/><circle cx="539.7" cy="808.7" r="2.55"/><circle cx="523.6" cy="817.6" r="2.55"/><circle cx="515.1" cy="820.4" r="2.55"/><circle cx="461.3" cy="829" r="2.55"/><circle cx="492.6" cy="829.2" r="2.55"/><circle cx="504.9" cy="829.2" r="2.55"/><circle cx="501.5" cy="833.4" r="2.55"/><circle cx="512.7" cy="833.4" r="2.55"/><circle cx="500.5" cy="841.2" r="2.55"/><circle cx="505.1" cy="850" r="2.55"/><circle cx="466.1" cy="854.8" r="2.55"/><circle cx="457.6" cy="857.8" r="2.55"/><circle cx="475.9" cy="867.1" r="2.55"/><circle cx="517" cy="872.6" r="2.55"/>
</g>
<g class="b" font-size="10.3" text-anchor="middle">
<text x="347.5" y="683.2" textLength="45.5" lengthAdjust="spacingAndGlyphs">47°30'0&quot;E</text>
<text x="412.5" y="683.2" textLength="45.5" lengthAdjust="spacingAndGlyphs">47°35'0&quot;E</text>
<text x="477.4" y="683.2" textLength="45.5" lengthAdjust="spacingAndGlyphs">47°40'0&quot;E</text>
<text x="542.4" y="683.2" textLength="45.5" lengthAdjust="spacingAndGlyphs">47°45'0&quot;E</text>
<text transform="translate(583.9 704.1) rotate(-90)" textLength="52.5" lengthAdjust="spacingAndGlyphs">35°58'30&quot;N</text>
<text transform="translate(583.9 780.8) rotate(-90)" textLength="46.5" lengthAdjust="spacingAndGlyphs">35°54'0&quot;N</text>
<text transform="translate(583.9 857.6) rotate(-90)" textLength="52.5" lengthAdjust="spacingAndGlyphs">35°49'30&quot;N</text>
</g>
<text x="3.8" y="15" font-size="16" class="b" textLength="17.9" lengthAdjust="spacingAndGlyphs">(k)</text>
<circle cx="11.6" cy="53.9" r="2.5" fill="#060606"/>
<text x="23.2" y="57.8" font-size="11.3" class="b" textLength="83" lengthAdjust="spacingAndGlyphs">Landslide location</text>
<text x="3.9" y="71.2" font-size="11.3" class="b" textLength="73.1" lengthAdjust="spacingAndGlyphs">Land use/cover</text>
<rect x="3.6" y="75.1" width="16.4" height="12" fill="#e8113f"/>
<text x="23.2" y="84.9" font-size="11.3" class="b" textLength="57.4" lengthAdjust="spacingAndGlyphs">Barren land</text>
<rect x="3.6" y="90.5" width="16.4" height="12" fill="#fdfc12"/>
<text x="23.2" y="100.3" font-size="11.3" class="b" textLength="74.5" lengthAdjust="spacingAndGlyphs">Cultivated land</text>
<rect x="3.6" y="105.8" width="16.4" height="12" fill="#58e61c"/>
<text x="23.2" y="115.6" font-size="11.3" class="b" textLength="80.2" lengthAdjust="spacingAndGlyphs">Dense grass land</text>
<rect x="3.6" y="121.2" width="16.4" height="12" fill="#9ff282"/>
<text x="23.2" y="131" font-size="11.3" class="b" textLength="77.6" lengthAdjust="spacingAndGlyphs">Open grass land</text>
<rect x="3.6" y="136.5" width="16.4" height="12" fill="url(#resd)"/>
<text x="23.2" y="146.3" font-size="11.3" class="b" textLength="77.6" lengthAdjust="spacingAndGlyphs">Residential area</text>
<rect x="3.6" y="151.9" width="16.4" height="12" fill="#2c7c55"/>
<text x="23.2" y="161.7" font-size="11.3" class="b" textLength="104.8" lengthAdjust="spacingAndGlyphs">Very dense grass land</text>
<text x="124.2" y="23" font-size="5.4" text-anchor="middle" style="font-family:'Liberation Sans',sans-serif;font-weight:bold" fill="#333">N</text>
<path d="M124.2 27 L118.8 55 L124.2 50 Z" fill="#fff" stroke="#222" stroke-width=".55" stroke-linejoin="miter"/>
<path d="M124.2 28 L129.7 55 L124.2 50 Z" fill="#0c0c0c" stroke="#0c0c0c" stroke-width=".4"/>
<path d="M124.2 50 L126.5 53.6 L124.2 84 Z" fill="#fff" stroke="#555" stroke-width=".45"/>
<path d="M124.2 50 L121.9 52.6 L124.2 84 Z" fill="#0c0c0c" stroke="#0c0c0c" stroke-width=".3"/>
<rect x="30.3" y="203.5" width="67.8" height="4.6" fill="#fff" stroke="#111" stroke-width=".5"/>
<rect x="30.3" y="203.5" width="8.6" height="4.6" fill="#0a0a0a"/>
<rect x="47.3" y="203.5" width="8.5" height="4.6" fill="#0a0a0a"/>
<rect x="64.6" y="203.5" width="33.5" height="4.6" fill="#0a0a0a"/>
<text x="30.3" y="198.1" font-size="9.4" text-anchor="middle" fill="#222">0</text>
<text x="46.7" y="198.1" font-size="9.4" text-anchor="middle" fill="#222">2</text>
<text x="64.2" y="198.1" font-size="9.4" text-anchor="middle" fill="#222">4</text>
<text x="98.1" y="198.1" font-size="9.4" text-anchor="middle" fill="#222">8</text>
<text x="101.3" y="208.1" font-size="10" textLength="13.2" lengthAdjust="spacingAndGlyphs" fill="#222">Km</text>
<text x="393.1" y="15.2" font-size="15" class="b" textLength="13.9" lengthAdjust="spacingAndGlyphs">(l)</text>
<circle cx="402" cy="39.6" r="2.5" fill="#060606"/>
<text x="413.1" y="43.2" font-size="11.8" class="b" textLength="87" lengthAdjust="spacingAndGlyphs">Landslide location</text>
<text x="393.5" y="56.2" font-size="12" class="b" textLength="72.2" lengthAdjust="spacingAndGlyphs">Rainfall (mm)</text>
<rect x="393.1" y="62.1" width="17.5" height="11.4" fill="#fffd8c"/>
<text x="413.1" y="71.3" font-size="12" class="b" textLength="48.7" lengthAdjust="spacingAndGlyphs">280 – 290</text>
<rect x="393.1" y="77.8" width="17.5" height="11.4" fill="#9fec4f"/>
<text x="413.1" y="87" font-size="12" class="b" textLength="48.7" lengthAdjust="spacingAndGlyphs">290 – 300</text>
<rect x="393.1" y="93.5" width="17.5" height="11.4" fill="#3ccd18"/>
<text x="413.1" y="102.7" font-size="12" class="b" textLength="48.7" lengthAdjust="spacingAndGlyphs">300 – 310</text>
<rect x="393.1" y="109.3" width="17.5" height="11.4" fill="#3fb56f"/>
<text x="413.1" y="118.5" font-size="12" class="b" textLength="48.7" lengthAdjust="spacingAndGlyphs">310 – 320</text>
<rect x="393.1" y="125" width="17.5" height="11.4" fill="#1f95a8"/>
<text x="413.1" y="134.2" font-size="12" class="b" textLength="48.7" lengthAdjust="spacingAndGlyphs">320 – 330</text>
<rect x="393.1" y="140.7" width="17.5" height="11.4" fill="#21509f"/>
<text x="413.1" y="149.9" font-size="12" class="b" textLength="48.7" lengthAdjust="spacingAndGlyphs">330 – 340</text>
<rect x="393.1" y="156.4" width="17.5" height="11.4" fill="#0c1086"/>
<text x="413.1" y="165.6" font-size="12" class="b" textLength="48.7" lengthAdjust="spacingAndGlyphs">340 – 350</text>
<text x="514.4" y="23.4" font-size="5.4" text-anchor="middle" style="font-family:'Liberation Sans',sans-serif;font-weight:bold" fill="#333">N</text>
<path d="M514.4 27.6 L509 53.5 L514.4 48.5 Z" fill="#fff" stroke="#222" stroke-width=".55" stroke-linejoin="miter"/>
<path d="M514.4 28.6 L519.9 53.5 L514.4 48.5 Z" fill="#0c0c0c" stroke="#0c0c0c" stroke-width=".4"/>
<path d="M514.4 48.5 L516.7 52.1 L514.4 85.2 Z" fill="#fff" stroke="#555" stroke-width=".45"/>
<path d="M514.4 48.5 L512.1 51.1 L514.4 85.2 Z" fill="#0c0c0c" stroke="#0c0c0c" stroke-width=".3"/>
<rect x="417.2" y="203.4" width="70.5" height="5" fill="#fff" stroke="#111" stroke-width=".5"/>
<rect x="417.2" y="203.4" width="8.4" height="5" fill="#0a0a0a"/>
<rect x="434.5" y="203.4" width="8.6" height="5" fill="#0a0a0a"/>
<rect x="452.3" y="203.4" width="35.4" height="5" fill="#0a0a0a"/>
<text x="417.2" y="198.1" font-size="9.4" text-anchor="middle" fill="#222">0</text>
<text x="433.8" y="198.1" font-size="9.4" text-anchor="middle" fill="#222">2</text>
<text x="452" y="198.1" font-size="9.4" text-anchor="middle" fill="#222">4</text>
<text x="487.7" y="198.1" font-size="9.4" text-anchor="middle" fill="#222">8</text>
<text x="490.9" y="208.4" font-size="10" textLength="13.7" lengthAdjust="spacingAndGlyphs" fill="#222">Km</text>
<text x="3.9" y="231.4" font-size="15.3" class="b" textLength="23.2" lengthAdjust="spacingAndGlyphs">(m)</text>
<circle cx="17.8" cy="260.5" r="2.6" fill="#060606"/>
<text x="28.5" y="264" font-size="12" class="b" textLength="89.2" lengthAdjust="spacingAndGlyphs">Landslide location</text>
<rect x="14.6" y="274.6" width="6.4" height="1.4" fill="#111"/>
<text x="28.5" y="278.8" font-size="12.2" class="b" textLength="27.1" lengthAdjust="spacingAndGlyphs">Fault</text>
<text x="9.8" y="293.8" font-size="12.2" class="b" textLength="108.2" lengthAdjust="spacingAndGlyphs">Distance to fault (m)</text>
<rect x="9.3" y="301" width="17.8" height="12.8" fill="url(#brd)"/>
<text x="28.4" y="311.2" font-size="12.2" class="b" textLength="28" lengthAdjust="spacingAndGlyphs">0-200</text>
<rect x="9.3" y="318.1" width="17.8" height="12.8" fill="#f29a1c"/>
<text x="28.4" y="328.3" font-size="12.2" class="b" textLength="40.7" lengthAdjust="spacingAndGlyphs">200-400</text>
<rect x="9.3" y="335.3" width="17.8" height="12.8" fill="#fdfc12"/>
<text x="28.4" y="345.5" font-size="12.2" class="b" textLength="40.7" lengthAdjust="spacingAndGlyphs">400-600</text>
<rect x="9.3" y="352.4" width="17.8" height="12.8" fill="#24dc22"/>
<text x="28.4" y="362.6" font-size="12.2" class="b" textLength="40.7" lengthAdjust="spacingAndGlyphs">600-800</text>
<rect x="9.3" y="369.6" width="17.8" height="12.8" fill="#2e9a97"/>
<text x="28.4" y="379.8" font-size="12.2" class="b" textLength="46.8" lengthAdjust="spacingAndGlyphs">800-1000</text>
<rect x="9.3" y="386.7" width="17.8" height="12.8" fill="#174ac6"/>
<text x="28.4" y="396.9" font-size="12.2" class="b" textLength="31.2" lengthAdjust="spacingAndGlyphs">&gt;1000</text>
<text x="126.3" y="239.3" font-size="5.4" text-anchor="middle" style="font-family:'Liberation Sans',sans-serif;font-weight:bold" fill="#333">N</text>
<path d="M126.3 244.4 L120.9 272 L126.3 267 Z" fill="#fff" stroke="#222" stroke-width=".55" stroke-linejoin="miter"/>
<path d="M126.3 245.4 L131.8 272 L126.3 267 Z" fill="#0c0c0c" stroke="#0c0c0c" stroke-width=".4"/>
<path d="M126.3 267 L128.6 270.6 L126.3 303.3 Z" fill="#fff" stroke="#555" stroke-width=".45"/>
<path d="M126.3 267 L124 269.6 L126.3 303.3 Z" fill="#0c0c0c" stroke="#0c0c0c" stroke-width=".3"/>
<rect x="32" y="428" width="68.3" height="4.6" fill="#fff" stroke="#111" stroke-width=".5"/>
<rect x="32" y="428" width="9" height="4.6" fill="#0a0a0a"/>
<rect x="49" y="428" width="9" height="4.6" fill="#0a0a0a"/>
<rect x="66.5" y="428" width="33.8" height="4.6" fill="#0a0a0a"/>
<text x="32" y="423" font-size="9.4" text-anchor="middle" fill="#222">0</text>
<text x="48.4" y="423" font-size="9.4" text-anchor="middle" fill="#222">2</text>
<text x="66" y="423" font-size="9.4" text-anchor="middle" fill="#222">4</text>
<text x="100" y="423" font-size="9.4" text-anchor="middle" fill="#222">8</text>
<text x="103.5" y="432.6" font-size="10" textLength="13.4" lengthAdjust="spacingAndGlyphs" fill="#222">Km</text>
<text x="393" y="231" font-size="15.5" class="b" textLength="19" lengthAdjust="spacingAndGlyphs">(n)</text>
<circle cx="406.4" cy="256.8" r="2.7" fill="#060606"/>
<text x="421.3" y="260.9" font-size="12" class="b" textLength="91.1" lengthAdjust="spacingAndGlyphs">Landslide location</text>
<text x="398.3" y="274.7" font-size="12" class="b" textLength="107.4" lengthAdjust="spacingAndGlyphs">Fault density (m/km)</text>
<rect x="397.4" y="280.4" width="18.6" height="13.3" fill="#fefe76"/>
<text x="421" y="290.8" font-size="12" class="b" textLength="34.5" lengthAdjust="spacingAndGlyphs">0 – 0.3</text>
<rect x="397.4" y="297.5" width="18.6" height="13.3" fill="#fdfc12"/>
<text x="421" y="307.9" font-size="12" class="b" textLength="41" lengthAdjust="spacingAndGlyphs">0.3 – 0.8</text>
<rect x="397.4" y="314.5" width="18.6" height="13.3" fill="#e9e01f"/>
<text x="421" y="324.9" font-size="12" class="b" textLength="41" lengthAdjust="spacingAndGlyphs">0.8 – 1.2</text>
<rect x="397.4" y="331.6" width="18.6" height="13.3" fill="#78e61a"/>
<text x="421" y="342" font-size="12" class="b" textLength="41" lengthAdjust="spacingAndGlyphs">1.2 – 1.7</text>
<rect x="397.4" y="348.6" width="18.6" height="13.3" fill="#1fc24e"/>
<text x="421" y="359" font-size="12" class="b" textLength="41" lengthAdjust="spacingAndGlyphs">1.7 – 2.1</text>
<rect x="397.4" y="365.7" width="18.6" height="13.3" fill="#2a8fa0"/>
<text x="421" y="376.1" font-size="12" class="b" textLength="41" lengthAdjust="spacingAndGlyphs">2.1 – 2.5</text>
<rect x="397.4" y="382.8" width="18.6" height="13.3" fill="#14307c"/>
<text x="421" y="393.2" font-size="12" class="b" textLength="38.5" lengthAdjust="spacingAndGlyphs">2.5 –3.2</text>
<text x="516.8" y="315.7" font-size="5.4" text-anchor="middle" style="font-family:'Liberation Sans',sans-serif;font-weight:bold" fill="#333">N</text>
<path d="M516.8 320.9 L511.4 349.4 L516.8 344.4 Z" fill="#fff" stroke="#222" stroke-width=".55" stroke-linejoin="miter"/>
<path d="M516.8 321.9 L522.3 349.4 L516.8 344.4 Z" fill="#0c0c0c" stroke="#0c0c0c" stroke-width=".4"/>
<path d="M516.8 344.4 L519.1 348 L516.8 380.6 Z" fill="#fff" stroke="#555" stroke-width=".45"/>
<path d="M516.8 344.4 L514.5 347 L516.8 380.6 Z" fill="#0c0c0c" stroke="#0c0c0c" stroke-width=".3"/>
<rect x="420.6" y="428.8" width="70.3" height="5" fill="#fff" stroke="#111" stroke-width=".5"/>
<rect x="420.6" y="428.8" width="8.8" height="5" fill="#0a0a0a"/>
<rect x="438.3" y="428.8" width="8.6" height="5" fill="#0a0a0a"/>
<rect x="456.1" y="428.8" width="34.8" height="5" fill="#0a0a0a"/>
<text x="420.3" y="423.4" font-size="9.4" text-anchor="middle" fill="#222">0</text>
<text x="437.6" y="423.4" font-size="9.4" text-anchor="middle" fill="#222">2</text>
<text x="455.1" y="423.4" font-size="9.4" text-anchor="middle" fill="#222">4</text>
<text x="490" y="423.4" font-size="9.4" text-anchor="middle" fill="#222">8</text>
<text x="493.2" y="433.8" font-size="10" textLength="13.9" lengthAdjust="spacingAndGlyphs" fill="#222">Km</text>
<text x="5" y="456.9" font-size="15.3" class="b" textLength="17.8" lengthAdjust="spacingAndGlyphs">(o)</text>
<circle cx="13.9" cy="498.5" r="2.7" fill="#060606"/>
<text x="29.4" y="502.8" font-size="12.6" class="b" textLength="95.4" lengthAdjust="spacingAndGlyphs">Landslide location</text>
<text x="4.8" y="517.2" font-size="12" class="b" textLength="113.8" lengthAdjust="spacingAndGlyphs">Distance to stream (m)</text>
<rect x="4.5" y="522.4" width="19.2" height="13.9" fill="#fffe80"/>
<text x="28.9" y="533.3" font-size="12" class="b" textLength="21.1" lengthAdjust="spacingAndGlyphs">0-50</text>
<rect x="4.5" y="539.7" width="19.2" height="13.9" fill="#66e622"/>
<text x="28.9" y="550.6" font-size="12" class="b" textLength="33.1" lengthAdjust="spacingAndGlyphs">50-100</text>
<rect x="4.5" y="557" width="19.2" height="13.9" fill="#3cb371"/>
<text x="28.9" y="567.9" font-size="12" class="b" textLength="39.2" lengthAdjust="spacingAndGlyphs">100-150</text>
<rect x="4.5" y="574.3" width="19.2" height="13.9" fill="#2273a8"/>
<text x="28.9" y="585.2" font-size="12" class="b" textLength="39.2" lengthAdjust="spacingAndGlyphs">150-200</text>
<rect x="4.5" y="591.6" width="19.2" height="13.9" fill="#0c1088"/>
<text x="28.9" y="602.5" font-size="12" class="b" textLength="24.1" lengthAdjust="spacingAndGlyphs">&gt;200</text>
<text x="126.1" y="542.8" font-size="5.4" text-anchor="middle" style="font-family:'Liberation Sans',sans-serif;font-weight:bold" fill="#333">N</text>
<path d="M126.1 547 L120.7 574.7 L126.1 569.7 Z" fill="#fff" stroke="#222" stroke-width=".55" stroke-linejoin="miter"/>
<path d="M126.1 548 L131.6 574.7 L126.1 569.7 Z" fill="#0c0c0c" stroke="#0c0c0c" stroke-width=".4"/>
<path d="M126.1 569.7 L128.4 573.3 L126.1 607.5 Z" fill="#fff" stroke="#555" stroke-width=".45"/>
<path d="M126.1 569.7 L123.8 572.3 L126.1 607.5 Z" fill="#0c0c0c" stroke="#0c0c0c" stroke-width=".3"/>
<rect x="30.9" y="655.6" width="69.3" height="5" fill="#fff" stroke="#111" stroke-width=".5"/>
<rect x="30.9" y="655.6" width="8.7" height="5" fill="#0a0a0a"/>
<rect x="48.2" y="655.6" width="8.9" height="5" fill="#0a0a0a"/>
<rect x="66" y="655.6" width="34.2" height="5" fill="#0a0a0a"/>
<text x="30.9" y="649.9" font-size="9.4" text-anchor="middle" fill="#222">0</text>
<text x="47.8" y="649.9" font-size="9.4" text-anchor="middle" fill="#222">2</text>
<text x="65.6" y="649.9" font-size="9.4" text-anchor="middle" fill="#222">4</text>
<text x="99.9" y="649.9" font-size="9.4" text-anchor="middle" fill="#222">8</text>
<text x="103.1" y="660.6" font-size="10" textLength="14.1" lengthAdjust="spacingAndGlyphs" fill="#222">Km</text>
<text x="397.1" y="455.7" font-size="15.3" class="b" textLength="18.8" lengthAdjust="spacingAndGlyphs">(p)</text>
<circle cx="408.4" cy="475.1" r="2.7" fill="#060606"/>
<text x="423.4" y="479.2" font-size="12" class="b" textLength="89.7" lengthAdjust="spacingAndGlyphs">Landslide location</text>
<text x="399.8" y="493" font-size="12" class="b" textLength="116.5" lengthAdjust="spacingAndGlyphs">Stream density (m/km)</text>
<rect x="399.3" y="498.9" width="18.7" height="13.3" fill="#fdeebb"/>
<text x="423" y="509.2" font-size="12" class="b" textLength="31.2" lengthAdjust="spacingAndGlyphs">0 – 1.9</text>
<rect x="399.3" y="516.2" width="18.7" height="13.3" fill="#fdd080"/>
<text x="423" y="526.5" font-size="12" class="b" textLength="40.5" lengthAdjust="spacingAndGlyphs">1.9 – 3.2</text>
<rect x="399.3" y="533.4" width="18.7" height="13.3" fill="#f5a50a"/>
<text x="423" y="543.7" font-size="12" class="b" textLength="40.5" lengthAdjust="spacingAndGlyphs">3.2 – 4.2</text>
<rect x="399.3" y="550.7" width="18.7" height="13.3" fill="#a2a2a2"/>
<text x="423" y="561" font-size="12" class="b" textLength="40.5" lengthAdjust="spacingAndGlyphs">4.2 – 5.2</text>
<rect x="399.3" y="568" width="18.7" height="13.3" fill="#04fbfb"/>
<text x="423" y="578.3" font-size="12" class="b" textLength="40.5" lengthAdjust="spacingAndGlyphs">5.2 – 6.3</text>
<rect x="399.3" y="585.2" width="18.7" height="13.3" fill="#3a86f0"/>
<text x="423" y="595.5" font-size="12" class="b" textLength="40.5" lengthAdjust="spacingAndGlyphs">6.3 – 7.8</text>
<rect x="399.3" y="602.5" width="18.7" height="13.3" fill="#0808c8"/>
<text x="423" y="612.8" font-size="12" class="b" textLength="46" lengthAdjust="spacingAndGlyphs">7.8 – 13.2</text>
<text x="518.4" y="542.8" font-size="5.4" text-anchor="middle" style="font-family:'Liberation Sans',sans-serif;font-weight:bold" fill="#333">N</text>
<path d="M518.4 547 L513 576.4 L518.4 571.4 Z" fill="#fff" stroke="#222" stroke-width=".55" stroke-linejoin="miter"/>
<path d="M518.4 548 L523.9 576.4 L518.4 571.4 Z" fill="#0c0c0c" stroke="#0c0c0c" stroke-width=".4"/>
<path d="M518.4 571.4 L520.7 575 L518.4 608.3 Z" fill="#fff" stroke="#555" stroke-width=".45"/>
<path d="M518.4 571.4 L516.1 574 L518.4 608.3 Z" fill="#0c0c0c" stroke="#0c0c0c" stroke-width=".3"/>
<rect x="423.9" y="656.5" width="69.2" height="5.3" fill="#fff" stroke="#111" stroke-width=".5"/>
<rect x="423.9" y="656.5" width="8.9" height="5.3" fill="#0a0a0a"/>
<rect x="441.2" y="656.5" width="8.5" height="5.3" fill="#0a0a0a"/>
<rect x="458.7" y="656.5" width="34.4" height="5.3" fill="#0a0a0a"/>
<text x="423.9" y="651.1" font-size="9.4" text-anchor="middle" fill="#222">0</text>
<text x="440.8" y="651.1" font-size="9.4" text-anchor="middle" fill="#222">2</text>
<text x="458.1" y="651.1" font-size="9.4" text-anchor="middle" fill="#222">4</text>
<text x="492.6" y="651.1" font-size="9.4" text-anchor="middle" fill="#222">8</text>
<text x="496.1" y="661.8" font-size="10" textLength="13" lengthAdjust="spacingAndGlyphs" fill="#222">Km</text>
<text x="201.2" y="682.8" font-size="15" class="b" textLength="17.9" lengthAdjust="spacingAndGlyphs">(q)</text>
<circle cx="212.3" cy="735.4" r="2.7" fill="#060606"/>
<text x="228.4" y="739.4" font-size="12.6" class="b" textLength="95.4" lengthAdjust="spacingAndGlyphs">Landslide location</text>
<text x="203.6" y="753.8" font-size="12.5" class="b" textLength="109.1" lengthAdjust="spacingAndGlyphs">Distance to road (m)</text>
<rect x="203" y="759.5" width="19.6" height="13.9" fill="#58f01c"/>
<text x="228" y="770.6" font-size="12.5" class="b" textLength="21.8" lengthAdjust="spacingAndGlyphs">0-50</text>
<rect x="203" y="777.2" width="19.6" height="13.9" fill="#339950"/>
<text x="228" y="788.4" font-size="12.5" class="b" textLength="35.1" lengthAdjust="spacingAndGlyphs">50-100</text>
<rect x="203" y="795" width="19.6" height="13.9" fill="#fdfc12"/>
<text x="228" y="806.1" font-size="12.5" class="b" textLength="41.5" lengthAdjust="spacingAndGlyphs">100-150</text>
<rect x="203" y="812.8" width="19.6" height="13.9" fill="#ee7090"/>
<text x="228" y="823.9" font-size="12.5" class="b" textLength="41.5" lengthAdjust="spacingAndGlyphs">150-200</text>
<rect x="203" y="830.5" width="19.6" height="13.9" fill="#fb04d2"/>
<text x="228" y="841.6" font-size="12.5" class="b" textLength="25.5" lengthAdjust="spacingAndGlyphs">&gt;200</text>
<text x="322.5" y="767.2" font-size="5.4" text-anchor="middle" style="font-family:'Liberation Sans',sans-serif;font-weight:bold" fill="#333">N</text>
<path d="M322.5 771.7 L317.1 799.7 L322.5 794.7 Z" fill="#fff" stroke="#222" stroke-width=".55" stroke-linejoin="miter"/>
<path d="M322.5 772.7 L328 799.7 L322.5 794.7 Z" fill="#0c0c0c" stroke="#0c0c0c" stroke-width=".4"/>
<path d="M322.5 794.7 L324.8 798.3 L322.5 830.6 Z" fill="#fff" stroke="#555" stroke-width=".45"/>
<path d="M322.5 794.7 L320.2 797.3 L322.5 830.6 Z" fill="#0c0c0c" stroke="#0c0c0c" stroke-width=".3"/>
<rect x="227.3" y="877" width="69.3" height="5.6" fill="#fff" stroke="#111" stroke-width=".5"/>
<rect x="227.3" y="877" width="9.2" height="5.6" fill="#0a0a0a"/>
<rect x="244.6" y="877" width="9.2" height="5.6" fill="#0a0a0a"/>
<rect x="262.4" y="877" width="34.2" height="5.6" fill="#0a0a0a"/>
<text x="227.3" y="872.4" font-size="9.4" text-anchor="middle" fill="#222">0</text>
<text x="244" y="872.4" font-size="9.4" text-anchor="middle" fill="#222">2</text>
<text x="262" y="872.4" font-size="9.4" text-anchor="middle" fill="#222">4</text>
<text x="296" y="872.4" font-size="9.4" text-anchor="middle" fill="#222">8</text>
<text x="300.1" y="882.6" font-size="10" textLength="13.6" lengthAdjust="spacingAndGlyphs" fill="#222">Km</text>
</svg>
</body></html>
